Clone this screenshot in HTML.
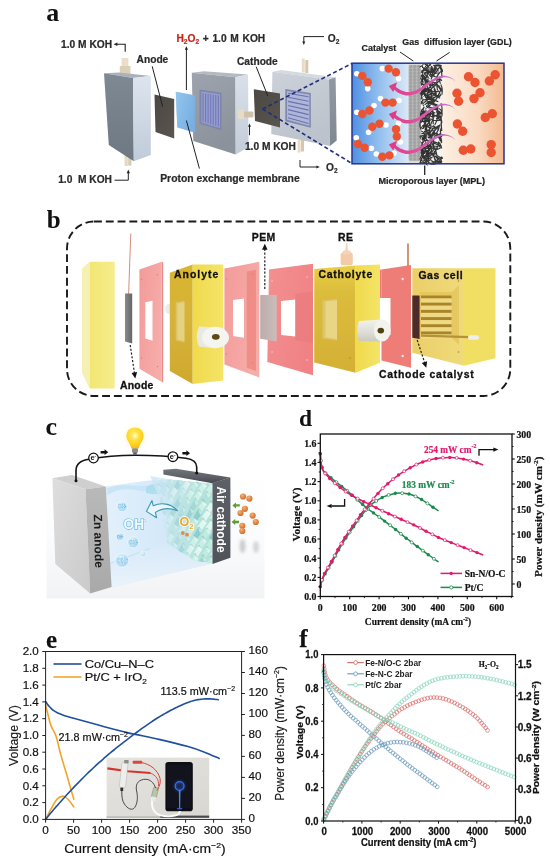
<!DOCTYPE html>
<html lang="en"><head><meta charset="utf-8"><title>Figure</title>
<style>html,body{margin:0;padding:0;background:#fff}svg{display:block}#pa text{stroke:#2a2a2a;stroke-width:.22px}#pa tspan[fill]{stroke:#c8251a}#pb text{stroke:#111;stroke-width:.3px}#pf text{stroke:#111;stroke-width:.25px}#pe text{stroke:#111;stroke-width:.18px}</style></head>
<body><svg width="550" height="863" viewBox="0 0 550 863">
<defs>
<linearGradient id="gLdark" x1="0" y1="0" x2="0" y2="1"><stop offset="0" stop-color="#7f8994"/><stop offset="1" stop-color="#6e7883"/></linearGradient>
<linearGradient id="gLlight" x1="0" y1="0" x2="0" y2="1"><stop offset="0" stop-color="#dde4ee"/><stop offset="1" stop-color="#c0cbd9"/></linearGradient>
<linearGradient id="gAnode" x1="0" y1="0" x2="1" y2="1"><stop offset="0" stop-color="#4b4743"/><stop offset="1" stop-color="#5a554e"/></linearGradient>
<linearGradient id="gMem" x1="0" y1="0" x2="1" y2="0.6"><stop offset="0" stop-color="#93c6ee"/><stop offset="1" stop-color="#78afe2"/></linearGradient>
<linearGradient id="gMidF" x1="0" y1="0" x2="0.3" y2="1"><stop offset="0" stop-color="#9ea4ad"/><stop offset="1" stop-color="#8b929c"/></linearGradient>
<linearGradient id="gMidR" x1="0" y1="0" x2="0" y2="1"><stop offset="0" stop-color="#d9e0e9"/><stop offset="1" stop-color="#c3ccd8"/></linearGradient>
<linearGradient id="gRF" x1="0" y1="0" x2="0.4" y2="1"><stop offset="0" stop-color="#cdd2d9"/><stop offset="1" stop-color="#bcc3cc"/></linearGradient>
<linearGradient id="gRR" x1="0" y1="0" x2="0" y2="1"><stop offset="0" stop-color="#9299a3"/><stop offset="1" stop-color="#7f8792"/></linearGradient>
<linearGradient id="gInL" x1="0" y1="0" x2="1" y2="0"><stop offset="0" stop-color="#4f90e2"/><stop offset="0.45" stop-color="#8fbdee"/><stop offset="1" stop-color="#dbe9f6"/></linearGradient>
<linearGradient id="gInR" x1="0" y1="0" x2="1" y2="0"><stop offset="0" stop-color="#fdf0e4"/><stop offset="0.6" stop-color="#f9d9c0"/><stop offset="1" stop-color="#f4b98f"/></linearGradient>
<linearGradient id="gPink" gradientUnits="userSpaceOnUse" x1="392" y1="0" x2="461" y2="0"><stop offset="0" stop-color="#e63884"/><stop offset="0.4" stop-color="#dc55a2"/><stop offset="0.75" stop-color="#c46cc6"/><stop offset="1" stop-color="#d9b0e0"/></linearGradient>

<linearGradient id="gYend" x1="0" y1="0" x2="1" y2="0"><stop offset="0" stop-color="#f2e772"/><stop offset="1" stop-color="#f5ec8c"/></linearGradient>
<linearGradient id="gStrip" x1="0" y1="0" x2="1" y2="0"><stop offset="0" stop-color="#8a8a8a"/><stop offset="1" stop-color="#666"/></linearGradient>
<linearGradient id="gPinkG" x1="0" y1="0" x2="1" y2="0.5"><stop offset="0" stop-color="#f39a9a"/><stop offset="1" stop-color="#f6aca8"/></linearGradient>
<linearGradient id="gPinkG2" x1="0" y1="0" x2="1" y2="0.5"><stop offset="0" stop-color="#f39090"/><stop offset="1" stop-color="#f08286"/></linearGradient>
<linearGradient id="gGold" x1="0" y1="0" x2="0" y2="1"><stop offset="0" stop-color="#d9b52f"/><stop offset="0.5" stop-color="#d6b23a"/><stop offset="1" stop-color="#cfa92c"/></linearGradient>
<linearGradient id="gGold2" x1="0" y1="0" x2="0" y2="1"><stop offset="0" stop-color="#e9cf45"/><stop offset="0.25" stop-color="#dcbc3c"/><stop offset="1" stop-color="#d4b035"/></linearGradient>
<linearGradient id="gYfront" x1="0" y1="0" x2="1" y2="0"><stop offset="0" stop-color="#f0da4c"/><stop offset="1" stop-color="#f4e468"/></linearGradient>
<linearGradient id="gPEM" x1="0" y1="0" x2="1" y2="0"><stop offset="0" stop-color="#bcadab"/><stop offset="1" stop-color="#cbbdba"/></linearGradient>
<linearGradient id="gTube" x1="0" y1="0" x2="0" y2="1"><stop offset="0" stop-color="#f2f2ee"/><stop offset="0.6" stop-color="#dddcd6"/><stop offset="1" stop-color="#c9c8c0"/></linearGradient>
<linearGradient id="gGasF" x1="0" y1="0" x2="1" y2="0"><stop offset="0" stop-color="#ebcf68"/><stop offset="1" stop-color="#f0da7a"/></linearGradient>

<linearGradient id="gMeshFade" x1="0" y1="0" x2="1" y2="0"><stop offset="0" stop-color="#cfe6f6" stop-opacity="0.75"/><stop offset="0.55" stop-color="#cbe6f2" stop-opacity="0.4"/><stop offset="0.8" stop-color="#cdeee8" stop-opacity="0"/></linearGradient>
<radialGradient id="gBulbHi"><stop offset="0" stop-color="#fffef0" stop-opacity="0.95"/><stop offset="1" stop-color="#fff6a0" stop-opacity="0"/></radialGradient>
<linearGradient id="gAirT" x1="0" y1="0" x2="0" y2="1"><stop offset="0" stop-color="#72767c"/><stop offset="0.55" stop-color="#5e6268"/><stop offset="1" stop-color="#45494f"/></linearGradient>
<filter id="fBlur" x="-1" y="-1" width="3" height="3"><feGaussianBlur stdDeviation="1.6"/></filter>
<linearGradient id="gCbg" x1="0" y1="0" x2="0" y2="1"><stop offset="0" stop-color="#ffffff"/><stop offset="0.5" stop-color="#fbfcfd"/><stop offset="1" stop-color="#f1f3f5"/></linearGradient>
<linearGradient id="gWater" x1="0" y1="0" x2="1" y2="1"><stop offset="0" stop-color="#d6e9f9"/><stop offset="1" stop-color="#dcecfa"/></linearGradient>
<linearGradient id="gWaterBack" x1="0" y1="0" x2="1" y2="0"><stop offset="0" stop-color="#e2f0fb"/><stop offset="1" stop-color="#d3e8f9"/></linearGradient>
<linearGradient id="gFloor" x1="0" y1="0" x2="0" y2="1"><stop offset="0" stop-color="#d3e7f8"/><stop offset="1" stop-color="#e9f3fb"/></linearGradient>
<linearGradient id="gZnL" x1="0" y1="0" x2="1" y2="1"><stop offset="0" stop-color="#dedede"/><stop offset="1" stop-color="#cacaca"/></linearGradient>
<linearGradient id="gZnF" x1="0" y1="0" x2="0" y2="1"><stop offset="0" stop-color="#b9b9b9"/><stop offset="1" stop-color="#a9a9a9"/></linearGradient>
<linearGradient id="gAirF" x1="0" y1="0" x2="0" y2="1"><stop offset="0" stop-color="#5d6167"/><stop offset="1" stop-color="#50545a"/></linearGradient>
<radialGradient id="gGlow"><stop offset="0" stop-color="#fff3a0" stop-opacity="0.9"/><stop offset="0.6" stop-color="#fff6c0" stop-opacity="0.45"/><stop offset="1" stop-color="#ffffff" stop-opacity="0"/></radialGradient>
<radialGradient id="gBulb" cx="0.45" cy="0.35" r="0.7"><stop offset="0" stop-color="#fff27a"/><stop offset="0.6" stop-color="#ffd522"/><stop offset="1" stop-color="#f2b40e"/></radialGradient>
<radialGradient id="gBub" cx="0.4" cy="0.35" r="0.7"><stop offset="0" stop-color="#e9f6fd"/><stop offset="1" stop-color="#9fd3f0"/></radialGradient>
<radialGradient id="gBall" cx="0.38" cy="0.32" r="0.75"><stop offset="0" stop-color="#f5b27a"/><stop offset="0.55" stop-color="#e28542"/><stop offset="1" stop-color="#c96a28"/></radialGradient>

<linearGradient id="gPhoto" x1="0" y1="0" x2="1" y2="1"><stop offset="0" stop-color="#e6e4e0"/><stop offset="1" stop-color="#d9d7d2"/></linearGradient>
<radialGradient id="gPhGlow"><stop offset="0" stop-color="#3b6fe8" stop-opacity="0.9"/><stop offset="1" stop-color="#1b2f80" stop-opacity="0"/></radialGradient>
</defs>
<rect width="550" height="863" fill="#ffffff"/>
<g id="pa">
<text x="46.2" y="20.6" font-family="'Liberation Serif','Times New Roman',serif" font-size="26" font-weight="bold" fill="#111" text-anchor="start" style="stroke:none">a</text>
<rect x="121.6" y="58" width="6.8" height="9" fill="#ebdfca"/><rect x="119.8" y="66" width="10.6" height="9" fill="#dccfb8"/>
<rect x="124.6" y="153" width="3.2" height="13" fill="#e6d9c2"/><rect x="128.2" y="155" width="3.2" height="10.6" fill="#d8cab0"/>
<polygon points="104,73.2 119,72.6 150.8,76.1 133,77.9" fill="#aab1bb" />
<polygon points="104,73.2 133,77.9 133.8,161.3 108.8,145" fill="url(#gLdark)" />
<polygon points="133,77.9 150.8,76.1 150.8,155 133.8,161.3" fill="url(#gLlight)" />
<polygon points="154.5,94.5 174.2,99 174.2,138.5 155.5,132" fill="url(#gAnode)" />
<polygon points="175.8,91.8 195.1,95.5 195.1,132.7 177.3,127.3" fill="url(#gMem)" />
<polygon points="191.8,72.7 204,71.3 248,74.5 235.5,77.3" fill="#b4bac3" />
<polygon points="191.8,72.7 235.5,77.3 235.7,154.4 193.3,141" fill="url(#gMidF)" />
<polygon points="235.5,77.3 248,74.5 248.6,147 235.7,154.4" fill="url(#gMidR)" />
<polygon points="175.8,91.8 195.1,95.5 195.1,132.7 177.3,127.3" fill="url(#gMem)" opacity="0.92"/>
<polygon points="199.5,89.6 221.5,92.7 221.5,130.3 199.5,123.8" fill="#7d86a8" />
<polygon points="201.3,91.6 220,94.2 220,128 201.3,122.4" fill="#969ecf" />
<line x1="203" y1="93.1" x2="203" y2="121.9" stroke="#6972b2" stroke-width="0.9" />
<line x1="205.6" y1="93.5" x2="205.6" y2="122.7" stroke="#6972b2" stroke-width="0.9" />
<line x1="208.1" y1="93.8" x2="208.1" y2="123.4" stroke="#6972b2" stroke-width="0.9" />
<line x1="210.7" y1="94.2" x2="210.7" y2="124.2" stroke="#6972b2" stroke-width="0.9" />
<line x1="213.2" y1="94.6" x2="213.2" y2="125" stroke="#6972b2" stroke-width="0.9" />
<line x1="215.8" y1="94.9" x2="215.8" y2="125.7" stroke="#6972b2" stroke-width="0.9" />
<line x1="218.3" y1="95.3" x2="218.3" y2="126.5" stroke="#6972b2" stroke-width="0.9" />
<rect x="237.6" y="109.6" width="7" height="9.6" rx="1.8" fill="#e6dbc7"/><rect x="244" y="111.6" width="9.4" height="5.8" rx="1.2" fill="#cfc2aa"/>
<rect x="301.8" y="58.5" width="3" height="14" fill="#e9dcc6"/><rect x="305.3" y="60" width="3" height="13" fill="#d6c8ae"/>
<rect x="297.6" y="140" width="3" height="12.5" fill="#e9dcc6"/><rect x="301" y="140" width="3" height="11.5" fill="#d6c8ae"/>
<polygon points="272.4,71.8 281,70 335.6,77.3 329,79.6" fill="#d5dae1" />
<polygon points="272.4,71.8 329,79.6 330,146 271.3,134" fill="url(#gRF)" />
<polygon points="329,79.6 335.6,77.3 336.7,140.5 330,146" fill="url(#gRR)" />
<polygon points="253.8,89.3 280,93.6 280,127.5 255,121" fill="url(#gAnode)" />
<polygon points="285.3,89 310.8,93 310.8,127.8 285.3,121.2" fill="#7f88ad" />
<polygon points="287,91 309.3,94.5 309.3,125.7 287,119.8" fill="#b0b6d8" />
<line x1="288" y1="93.2" x2="308.5" y2="96.7" stroke="#6a73b0" stroke-width="1.1" />
<line x1="288" y1="97.3" x2="308.5" y2="101.2" stroke="#6a73b0" stroke-width="1.1" />
<line x1="288" y1="101.4" x2="308.5" y2="105.6" stroke="#6a73b0" stroke-width="1.1" />
<line x1="288" y1="105.5" x2="308.5" y2="110.1" stroke="#6a73b0" stroke-width="1.1" />
<line x1="288" y1="109.6" x2="308.5" y2="114.6" stroke="#6a73b0" stroke-width="1.1" />
<line x1="288" y1="113.7" x2="308.5" y2="119" stroke="#6a73b0" stroke-width="1.1" />
<line x1="288" y1="117.8" x2="308.5" y2="123.5" stroke="#6a73b0" stroke-width="1.1" />
<path d="M262.5,109 L352,63.5 M262.5,109 L352,163.5" fill="none" stroke="#1f2f7c" stroke-width="1.6" stroke-dasharray="4 2.6"/>
<text x="61.1" y="48.4" font-family="'Liberation Sans',Arial,sans-serif" font-size="10.2" font-weight="bold" fill="#2a2a2a" text-anchor="start" >1.0 M KOH</text>
<path d="M116,44.2 H125.2 V51.8" fill="none" stroke="#222" stroke-width="1.1"/><polygon points="113.6,44.2 117.4,42.5 117.4,45.9" fill="#222" />
<text x="58.2" y="183" font-family="'Liberation Sans',Arial,sans-serif" font-size="10.2" font-weight="bold" fill="#2a2a2a" text-anchor="start" >1.0&#160; M KOH</text>
<path d="M114.5,180.2 H128.3 V172.5" fill="none" stroke="#222" stroke-width="1"/><polygon points="128.3,169.6 129.9,173.2 126.7,173.2" fill="#222" />
<text x="136.6" y="63.4" font-family="'Liberation Sans',Arial,sans-serif" font-size="10.2" font-weight="bold" fill="#2a2a2a" text-anchor="start" >Anode</text>
<line x1="152.2" y1="66.3" x2="162.6" y2="106.5" stroke="#222" stroke-width="1" />
<text x="176.5" y="42.2" word-spacing="0.9" font-family="'Liberation Sans',Arial,sans-serif" font-size="10.2" font-weight="bold" fill="#2a2a2a"><tspan fill="#c8251a">H<tspan font-size="6.5" dy="2.2">2</tspan><tspan dy="-2.2">O</tspan><tspan font-size="6.5" dy="2.2">2</tspan></tspan><tspan dy="-2.2"> + 1.0 M KOH</tspan></text>
<line x1="186.4" y1="90" x2="186.4" y2="49" stroke="#222" stroke-width="1" /><polygon points="186.4,46.2 188,49.8 184.8,49.8" fill="#222" />
<text x="237" y="65" font-family="'Liberation Sans',Arial,sans-serif" font-size="10.2" font-weight="bold" fill="#2a2a2a" text-anchor="start" >Cathode</text>
<line x1="256.2" y1="66.8" x2="267.8" y2="96" stroke="#222" stroke-width="1" />
<line x1="186.4" y1="120.5" x2="199.4" y2="168.5" stroke="#222" stroke-width="1" />
<text x="160.2" y="182.4" font-family="'Liberation Sans',Arial,sans-serif" font-size="10.38" font-weight="bold" fill="#2a2a2a" text-anchor="start" >Proton exchange membrane</text>
<text transform="translate(244.9,150.2) scale(1,1)" font-family="'Liberation Sans',Arial,sans-serif" font-size="10.2" font-weight="bold" fill="#2a2a2a">1.0 M KOH</text>
<line x1="249.5" y1="135.2" x2="249.5" y2="126.2" stroke="#222" stroke-width="1" /><polygon points="249.5,123.4 251,126.8 248,126.8" fill="#222" />
<text x="327.8" y="41.6" font-family="'Liberation Sans',Arial,sans-serif" font-size="10.2" font-weight="bold" fill="#2a2a2a">O<tspan font-size="6.5" dy="2.2">2</tspan></text>
<path d="M324,36.6 H303.8 V42.2" fill="none" stroke="#222" stroke-width="1"/><polygon points="303.8,45 302.3,41.6 305.3,41.6" fill="#222" />
<text x="326" y="171" font-family="'Liberation Sans',Arial,sans-serif" font-size="10.2" font-weight="bold" fill="#2a2a2a">O<tspan font-size="6.5" dy="2.2">2</tspan></text>
<path d="M300,160 V167 H316.8" fill="none" stroke="#222" stroke-width="1"/><polygon points="319.8,167 316.4,168.5 316.4,165.5" fill="#222" />
<rect x="352" y="63.2" width="57" height="100.6" fill="url(#gInL)"/>
<rect x="442" y="63.2" width="62" height="100.6" fill="url(#gInR)"/>
<rect x="420.5" y="63.2" width="21.8" height="100.6" fill="#f3f3f1"/><rect x="408.6" y="63.2" width="12.4" height="100.6" fill="#d9dadb"/>
<rect x="408.6" y="63.2" width="12" height="100.6" fill="#d9dadb"/>
<rect x="408.6" y="65" width="12.2" height="96" rx="3" fill="#b9b9b9"/>
<line x1="410.7" y1="66.5" x2="410.7" y2="160" stroke="#a2a2a2" stroke-width="3.3" stroke-linecap="round" stroke-dasharray="0.1 3.2"/>
<line x1="414.7" y1="66.5" x2="414.7" y2="160" stroke="#a2a2a2" stroke-width="3.3" stroke-linecap="round" stroke-dasharray="0.1 3.2"/>
<line x1="418.7" y1="66.5" x2="418.7" y2="160" stroke="#a2a2a2" stroke-width="3.3" stroke-linecap="round" stroke-dasharray="0.1 3.2"/>
<path d="M427.6,78.9Q426.8,80.2 425.5,83.1M422.2,114.2Q423.5,112.2 430,115.2M429.7,145.9Q433.2,149.7 435.3,148.1M432.8,103.3Q432.8,102.2 428.4,103.6M424,75.7Q425.3,80.8 430.4,85M434.1,100.9Q431.1,101.4 433.4,105.4M434.9,106.3Q437.2,109 440.1,114.1M437.3,133.2Q439.7,138.6 441.8,139.6M436,92.5Q432.9,94.2 430.9,92.8M424.1,112.4Q430.7,113.5 434.1,113.6M438.9,95.1Q436.7,98.6 433.6,102.7M438.2,157.5Q436,161.5 439,163M434.3,162.3Q430.8,163.7 428.7,163M421.5,109.7Q421,112.6 425.8,112.3M423.7,88.5Q423.1,93.8 427.6,99.7M432.3,151.5Q426,154.1 422.3,157.8M428.4,151.5Q423.8,150.3 423,152.2M425.8,112Q421.9,114.6 424,118.1M428.6,120.1Q424.9,121.5 421,121.6M434.9,69.3Q431.9,72.8 424.4,72.8M429,103.5Q431,102.5 438.2,106.6M425.3,80.1Q423.4,79.9 427.4,84M423.1,100Q429.7,98.4 434.9,100.9M426.2,98.4Q429.3,103.7 428.3,103M430.6,111.9Q432,111.1 435.3,113.2M438,80Q440.1,78.3 441.8,80.9M432.1,66.7Q433.8,74.2 431,79.4M426.4,100.3Q431.3,104.7 435.8,105.8M427.8,86.1Q426.5,91.5 421,93.3M437.8,137.2Q438.9,137.3 441.8,142.9M421.6,91.7Q427.8,95.1 428.6,99.1M440.2,161.8Q434.9,160.7 433,162.8M425,84.2Q425.1,89.7 421,95.4M434.4,143.2Q440.6,146.2 441.8,145.8M436.4,111.3Q438.1,116.1 441.8,117.2M440.9,103.2Q442.7,107.2 441.8,115.1M423.6,79Q420.2,82.6 421,82.3M441.1,129.1Q439.2,130.1 441.8,137M440.9,128.3Q440,136.7 439.9,140.7M437.9,84.9Q438.3,87.8 441.8,89.6M426.3,105.5Q431,107.7 437.5,110.4M433,153.5Q434.5,158.5 436,163M431.7,65.9Q429.3,70.4 432.8,71.4M424.5,110.9Q421.7,114.4 421,117.7M432.4,141.6Q435.1,141.8 440.9,144.6M436.8,114.3Q438.3,119.2 434.7,124.9M433.6,114Q433.1,119.4 433.2,124.3M430.8,157.2Q430,158.7 423.8,163M432.5,157.4Q427.9,158.3 427.9,159.9M422.5,87.8Q429.1,91.3 432.2,90.1M424.2,134.9Q425.2,140 421.6,139.5M425.5,158.3Q429.8,162.6 428.1,163M424.3,106.7Q422.3,109.2 424,113.8M435.8,65.9Q432.2,68.8 434.5,73.8M433.8,114.7Q439.5,118.8 441.8,117.3M423.1,90.3Q427.2,88.8 434.1,91.7M429.7,154.2Q424.9,158.4 424.3,157.6M432.7,133.3Q436,133.5 437,134.6M422.5,156.9Q419.2,162.1 421,163M422.4,149.4Q423.2,155.5 423.4,156.4M426.5,76.8Q423.9,77.8 426,82.9M422,84Q425.5,85.5 425.8,89.6M431.3,81.6Q430.7,80.6 433.2,85.3M436,118.6Q441.5,118.5 441.8,123.2M437.8,106.8Q437.2,112.6 438,118.3M435.1,161.3Q439.1,162.9 440.5,163M429.3,98.4Q429.3,100.3 434.4,99.3M426.2,80.2Q434,82.7 437.4,83.2M426.8,88Q427.2,90.9 431.7,94.5M426.4,159.2Q422.2,162.4 421,160M427.3,99.3Q430.9,99.3 434.8,99.3M425.1,114Q425.8,113.4 431.5,114.1M421.9,66.2Q424.1,68.9 425.4,71.2M436.4,129.1Q432,132.7 428.9,138.4M441.2,78.8Q435.3,84.5 434.8,86.3M439.3,126.1Q433.3,130.4 431.7,134.5M431.3,146.7Q427.2,152.3 422,153.2M435,132.6Q434.4,133.2 438.2,135.5M423.2,146.7Q423,152.6 421.4,156.2M431,64.3Q426.7,67.7 422.4,70.7M434.5,70.5Q429.8,71.4 430.3,75.2M436,84.3Q431.5,88.3 427.2,93.6M430.8,131.7Q428.1,132.3 423.7,138.1M424,89.1Q422.9,88.6 421,94M422.2,90.6Q422.7,93.7 421,99.4M431.6,110Q434.2,110.7 432.1,115M441.1,156.7Q443.3,159.7 441.8,157.1M430.2,90.6Q433.4,94.9 440.1,98.3M423.9,115.9Q424.4,116.3 421,116.7M439.2,133.6Q440.4,134.8 441.8,141.7M421.1,112.7Q419.4,115.1 422.1,119.3M427.5,147.2Q434.9,144.9 438.2,147.2M440,134.6Q436.1,135 433.7,136.6M441.5,122.3Q440.3,123.2 441.8,129.4M423.1,146.6Q425.5,150.1 430.8,156.3M431.5,82.8Q436.2,90.5 436.4,94.4M433.9,154.4Q430.9,152.6 425.1,156.1M436,108.6Q431.2,109.4 429,115.5M440,76.6Q439.1,81.6 440.6,83.7M441,89.8Q439.8,92.1 437.9,95.7M424.4,80Q429.2,82 434.1,87.4M439.6,162.7Q438.1,160.4 440.4,163M428,73Q430.7,77.5 432.6,77.3M436.4,104.9Q436.8,108.1 438.7,113.3M422.3,91.5Q421.7,92.5 421,92M438.7,85.4Q439.6,87.4 441.8,90.1M440.6,148Q435.8,150.1 436.7,149.7M439.4,110.9Q438.2,115.3 438.3,114.7M437.9,148.7Q432.5,146.9 431.7,149.2M431.7,131.5Q427.4,134.1 421.4,133.4M430.4,118.6Q434.2,121.8 441.3,120M434.2,94.1Q437.9,96.5 440,96.5M423.3,71Q422.3,73.9 422.6,80.2M433.3,65Q438.5,69.2 438.1,71.6M439.1,111.1Q443.2,114.4 441.8,115.2M427.3,66.2Q426.8,69.7 427.4,76.2M434.7,155.6Q435.3,156.5 437.9,158.4M435,83.6Q430.7,85 426.4,90M440.9,94.9Q436.6,98.1 435.8,98.1M427,158.2Q425.4,160.1 427.1,163M434.6,157.9Q436.3,162.4 441.4,161.3M423.9,69.1Q430,72.1 431.3,70.5M436,162.8Q430.7,165.5 429.2,163M436.3,67.2Q433.7,69.4 432.6,73.6M424.5,64.3Q429.5,64.8 429,69.8M440.8,84.5Q443.2,89.3 441.8,94.8M422,110.9Q422.6,115.7 426.8,122.2M439.4,67Q442.2,69.7 441.8,77.9M421.7,70.2Q422.8,73.4 421,71.8M428,91Q423,92.9 421,92.2M427.5,91.3Q435.4,92.2 438.3,91.4M440.3,66.4Q443.8,71.9 441.8,71.9M428.9,88.9Q432.4,91.1 430.8,97.1M437.5,137.1Q433.4,139 428.2,142.9M427.6,99.8Q423.9,102.8 423.9,102.8M426.1,70.4Q429.5,73.8 435,71.4M439.1,161.8Q438,162.4 441.8,163M435.6,108.2Q439.1,111.9 441.3,113.5M436.3,147.9Q437.1,148.8 433.8,152.3M432.6,100.9Q429.1,101.5 428.7,105.2M424.1,151.5Q422.7,157.9 422.5,158.3M431.4,86.9Q430.3,87.3 423.3,92.5M430.7,145.1Q423.1,146.8 421,151M423.4,82.8Q424.8,82.4 421,83.6M438.8,108.5Q443,110.1 441.8,116.5M433.2,125.4Q433.9,125.9 438.9,130M426.2,123.3Q422,124.9 423.6,128.5M434.9,82.3Q438.3,85 438.1,87.2M422.3,74Q424.6,75.8 425.2,82.5M424.4,132.8Q424.1,138.7 426.2,139.1M427.4,120.1Q431.3,126.6 430.8,127.1M428.5,83.5Q423.6,88.1 424.6,87.9M429.7,145.2Q431.2,148.9 433.2,156.6M421.3,118.6Q418.7,124.8 421,129.6M428.6,113.9Q431.7,117.9 434.5,116.8M423.2,112.6Q420.3,114 421,119.9M440.3,160.6Q443,161.1 440.6,163M439.5,125.4Q438.9,125.2 434.9,128.3M429.3,147.8Q425.2,148.6 424.4,150.7M431.6,102Q435.8,105.5 437.4,104.3M421.8,119.7Q423.5,118.9 421,122.7M433.3,118.5Q431.5,122.1 430.7,124.7M429.7,129.2Q427.5,133.9 431,137.1M431,87.3Q426.7,89.1 422.9,94.7M430.7,74.6Q431.9,75.8 437.9,77.7M431.5,68Q431.9,71.9 429.5,72.3M431.5,69.4Q434.1,70.9 431.4,76.8M438.6,162.6Q433,165.7 431,163M431.1,158.7Q430.2,162 425.8,160.1M422.3,98.7Q424.1,99.3 421,102.5M437.7,78.2Q435.9,82.9 437.6,90.5M431.4,95.6Q432.1,98.5 437,96.2M434.9,152.6Q436.1,155.6 441.8,158.2M434,99.6Q430.4,103.7 425.8,103.1M423.1,162.3Q423.9,161.2 421,163M441.3,121.2Q441.2,124.1 441.8,131M436.2,68.8Q434.4,73.4 430.9,72.2M433,129.7Q431.3,129.3 435.2,133M433.6,106.8Q431.2,111.2 433.1,118.8M434.4,66.2Q435.6,65.4 441.6,66.3M425.6,121.8Q425.5,124.4 424,127.4M423.8,156.7Q423.3,159.4 427.6,160.4M438.9,141.4Q436.9,145.3 440.8,147.5M432.5,98.7Q433.4,103.7 429,105.9M426.1,153.4Q429.9,152.5 434.8,154.7M422.2,141.1Q429.3,139.1 431.1,141.5M425.1,124.2Q426.9,127.1 424.9,134M427.3,93.7Q435,95.9 439.2,95.5M421.1,147.6Q422.5,150.3 421,153.5M425.6,74.4Q426.3,77.4 428.9,77.3M435.2,147.7Q433.6,149.8 431.3,152.7M437.2,115.8Q442.3,117.7 441.8,123M439,65.5Q441.9,70.4 441.8,70M436.3,96.4Q431.5,100.1 429.8,98.9M433.9,132.6Q430.6,140.2 427.6,143.7M435.3,148.9Q436.8,152.9 437.4,159.2M425.3,125.6Q429.1,124.3 437.2,128.6M423.2,156Q421.6,155.5 425.7,160.6M435.2,126.8Q429.5,131.6 429,135.4M428.4,144.9Q422.1,150.4 421,151.4M439.7,157.5Q438.4,155.7 441.8,159.4M438.4,144.4Q436.8,148.3 433.7,154.8M423,73.7Q420.9,75.2 421,77.7M421.4,89.4Q423.9,92.4 428,97.5M440.8,113.9Q433.7,115.5 432.2,118.2M429.9,140.5Q432.6,143.4 434.7,149.7M438.7,73Q433.3,72.7 434,76M436.6,160.8Q439.2,162.6 441.8,160.9M424.8,113Q426,120.7 430.1,123.2M426.8,85.3Q422,89.5 421.8,92.1M422.7,142Q422.6,145.6 421,151M429.2,103.1Q429.3,101 424.7,104.7M425.2,90.1Q422.4,93.7 421,92.7M425.8,109.6Q426.8,115.9 424.7,120.4M428.1,96.3Q434.2,100.5 438.4,101.8M424.5,107.4Q420.5,110.2 421,113.5M439.1,87.6Q441.7,91.5 441.8,91.4M424.2,79.4Q426.8,79.8 429.1,84.3M427.7,82.7Q422,85.9 421,83.6M423.1,102Q423.4,101.9 421,102.6M425,127.2Q427.1,125.3 430.6,129.1M429.2,142.3Q427.5,145.6 424.3,149.3M423.9,123.8Q427.9,128.4 427.1,134M432.8,138.2Q434.8,143.4 434.3,144M436.9,133.3Q433.2,135.3 427.8,137.8M427.4,126.2Q432.8,128.7 434.8,128.6M433.9,88.8Q435.6,92.1 435.8,96.6M434.8,156.1Q440,158.1 441.8,161.5M431,160.5Q433.4,162.7 439.9,161.6M440.3,115.4Q441.3,118.1 441.8,118.3M431.5,127.3Q427.2,132.2 424,131.7M425.3,131.8Q424.8,139.8 428.9,142M428.3,69.6Q427.8,72 433.2,75.4M429.6,133.1Q429.4,137.4 432.5,138.8M440.3,116.2Q440.4,118 441.8,123.3M423.7,140.9Q422.1,144 421,146.4M425.6,159.4Q429.7,163.1 430,163M430.6,93.1Q432.2,94.8 429.8,98.2M438.4,90.5Q439.2,91.5 440.8,96.3M421.1,135.5Q421.8,137.7 425,140.3M429.8,127.1Q430.6,132.4 426.3,133.5M422.2,146Q419.4,149.6 421,149.2M434,65.5Q438.8,64.2 441.8,65.9M423.1,78.1Q426.2,79.7 431.2,85.5M439.5,142.4Q441.3,147.1 441.8,148.4M434.7,152.5Q428.3,157.2 425.6,159.6M431.9,137.4Q433.4,141.9 434.2,149.2M425.8,77.8Q425.7,77.9 425.9,82.3M431.1,113.3Q427.4,121.2 429.6,125M430.6,119.7Q427,124.2 424.9,129.7M440.7,71.5Q435.8,76.5 436.6,80.3M435,156.2Q438.3,159.5 441.5,163M439.4,67.4Q435.4,73.3 433.3,74.8M428.5,111Q426.3,116 427.6,121.9M429.7,118.8Q428.8,120 424,122.3M431.3,90.9Q432.1,99 431.1,103.7M427.8,95.4Q431.3,100.8 433.3,102.9M421.8,135.5Q418.7,135.9 421,138.7M421.1,82.8Q422,85.7 421,85.1M439.7,124.6Q439.1,129.6 436.2,133.6" fill="none" stroke="#262626" stroke-width="1.15" opacity="0.92"/>
<path d="M427.5,85L428.5,84.7M428.2,74L426.3,70.3M428.4,154.5L429.3,153.4M428.8,141.9L429.2,139.9M423.9,105.8L422.8,105.2M427.1,156.5L424.4,157M421.4,75.8L423.2,76.4M429.7,108.2L426.8,107.3M426.6,156.8L429.5,156.6M424.9,74.1L425.8,71.8M422.4,65.5L419.5,67M422.2,159.7L419.7,162.6M422.2,65.8L423.5,63.7M428,82.6L425.3,84.7M427.8,148.7L429.2,145.4M427,134.2L426.7,137.7M423.4,159.5L424.7,155.6M421.1,128.4L423,125.1M424,136.2L422,139.1M425.6,69.9L424.8,70.5M425.2,131L423,133.4M424.5,127.8L425.2,127.2M424.7,141.8L427.3,144.1M426.4,92.9L423.7,96.7M427.7,145.9L426.7,146.8M430.3,146.3L430.9,144.8M425.1,151.9L424.3,153.4M426.7,152.7L428.6,151M421,90L420.6,90.7M428.8,151.9L426,154.5M428.7,149.9L429.1,148M429.1,143.9L430.2,147.2M424.3,72.4L424.6,74.8M422.9,138.3L425.5,136.1M426.8,131.1L426.6,128.7M423.4,138.4L425.2,138M421.8,143.9L423.5,141.7M426.5,152.8L428.8,153M425.5,122.3L423.7,119.9M422.7,133.4L421.9,133.9M424.8,115.2L422.7,111.6M430.5,101L428.1,102.1M428.5,79.5L429.1,78.2M425.9,66L423.1,70M429.2,112.1L429.6,110.2M428.4,106.2L431.1,108.3M428.8,159.4L427.3,155.7M422.9,81.9L420.4,78.3M426.3,150.2L426,153.8M429.6,70.4L430.2,69.5M422.1,159L420.7,159.5M427.1,158.7L428.1,157.8M425.3,79.8L428.1,83.7M423.1,67.8L421.6,66.6M429.6,153.6L431.6,149.9M428.5,134.3L429.4,138.1M421.5,78.3L423.1,81.9M427.4,93.6L428,95.6M422,96.1L420.5,93.1M425.6,80.7L424,77.8M427.4,65.2L428.7,62.8M421.3,155.8L419.7,159.3M429.2,152L427.1,151.6M421.9,155.9L424,157M425.3,97.6L427.2,97.5M427,78.1L425.3,74.6M427.8,118.8L425.6,121.7M423.5,104.8L421.5,102.9M429,97.1L427,97M424,153.4L421.7,157.2M421.5,152.6L422.5,150.3M425.5,92.3L424.1,90M424.5,162.1L427.4,165.5M421.9,92.7L424.3,89.1M427.9,93.1L430.8,89.2M428.7,97.7L426.5,93.8M428.9,116.1L427,115.6M429.7,85.6L430.1,82.7M422.7,140.3L424,137.8M421.8,72.7L422.4,72.6M423.6,84.4L424.3,86.1M428.7,121.7L426.9,118.2M428,104.4L429.3,100.8M428.7,97.2L430.8,100.1M425.7,65.5L428.1,65.3M429.3,90.4L427.4,93M424.5,80.2L423.7,80.9M421,115.5L420.7,115.6M422.1,134.7L424,137.7M424,134.4L423.3,136.4M421.6,150.4L424.3,150.4M425.9,116.5L426.1,112.7M430.2,86.1L428.3,83M423.4,144.9L420.6,141.7M427.6,83.3L424.7,84.1M426.5,115.8L427.7,112.6M429.3,135L426.5,132M425.7,113.6L424.4,110.6M424.9,77.6L425.4,80.4M422.4,120.7L423.9,118M428.8,156.8L428.2,156.2M429,116L428.4,119.6M428.4,97.5L426.8,96.2M425.1,161.1L427,164.4M428.7,147.9L426.1,148.1M430.1,156.5L428.6,155.9M427,100.1L427.2,96.6M425.1,114L422.2,111.1M430.2,140.9L432.8,141.9M428.7,151.6L431,147.8M427.1,90.3L428.2,88.5M426.2,155.5L426.9,153.5M425.9,106.9L428.6,105.2M423.9,128.1L421.6,128.9M430.1,114.9L428.7,114.6M426.1,78.7L423.8,75.7M423.8,104.2L422.5,102.2M421.8,118.1L423.9,119M426.4,128.4L424.6,130.1M425.4,118.3L426.1,118M423.9,88L422.3,88.1M424.6,122L421.7,120.8M429.2,87.6L429.5,87.5M423.7,161.8L422.5,163.9M422.5,70.6L424.7,70.1M421.6,102.4L421.2,104.3M422,86.3L424.8,88.2M422.5,97.4L421.6,98.8M426.9,148.1L428.8,148.3M428,137.6L429.6,137.4M428.5,134.1L430.9,131.2M429.3,64.4L430.9,65.1M425.7,159.3L426.2,158.7M428.4,150.4L429.1,149.4M425.3,109.3L426.6,107.7M424.7,119L424,117.6M428.5,148.1L428.5,147.7M422.8,94.1L420.6,94.7M426.5,72.7L429,71.3M429,147L431.8,144.6M425.1,154.1L422.1,150.5M426.4,113.2L428.9,115.4M426.1,162.8L426.2,163M427.5,102.6L426.7,103.3M424.3,157.8L425.4,158M421.9,101.1L421.3,101.6M426.5,151.1L429.2,151M425.2,125.8L428.2,124.6M426,144.8L424.1,143.3M430.3,145.8L430.4,142.7M429.5,132.3L431.4,136.2M429.4,105.7L427.4,104M425.9,114L424,111.4M427,123.7L426.1,127.7M427,68.2L426.5,70.5M423.9,132.4L420.9,130.8M429,122L430,119.6M425.7,118.8L424.3,119.9M426,162.7L426.5,162M422.2,79.5L423.7,76.4M422,80.9L422.1,83.5M426.8,143.9L424.2,140M428.3,96L429.6,94.8M422.6,90.4L420.2,93.6M426.5,98.5L426.2,97.6M421.5,152.2L422,155.8M425.2,125.4L423.7,121.7M429.8,148.6L428.7,151.8M428.8,94.1L429.4,97.7M425.7,158L424.2,157.1" fill="none" stroke="#2e2e2e" stroke-width="1"/>
<polygon points="392.7,88.3 393.6,89 394.5,89.8 395.4,90.6 396.4,91.4 397.4,92.2 398.6,92.9 399.7,93.5 400.9,94 402.1,94.5 403.4,94.8 404.7,95.2 406,95.4 407.3,95.5 408.7,95.4 410,95.3 411.2,95.1 412.5,94.8 413.7,94.5 414.9,94.1 416.1,93.7 417.3,93.2 418.5,92.6 419.6,92 420.7,91.3 421.7,90.6 422.7,89.8 423.7,89.1 424.6,88.3 425.6,87.5 426.5,86.8 427.4,86 428.3,85.3 429.2,84.6 430.2,83.9 431.2,83.2 432.1,82.6 433.1,81.9 434.1,81.3 435.1,80.7 436.2,80.1 437.2,79.5 438.2,79 439.3,78.5 440.3,78 441.4,77.7 442.4,77.4 443.5,77.3 444.7,77.2 445.8,77.3 446.9,77.4 448.1,77.6 449.2,77.9 450.3,78.2 451.4,78.7 452.5,79.2 453.4,79.9 454.3,80.7 455.2,81.5 455.3,81.4 454.5,80.5 453.7,79.6 452.8,78.7 451.8,78 450.7,77.4 449.6,76.9 448.4,76.5 447.2,76.2 446,75.9 444.8,75.7 443.5,75.6 442.2,75.6 440.9,75.8 439.7,76.2 438.5,76.6 437.3,77.1 436.2,77.6 435.1,78.1 434,78.6 432.9,79.2 431.9,79.8 430.8,80.4 429.8,81 428.7,81.7 427.7,82.4 426.7,83.1 425.7,83.8 424.7,84.6 423.8,85.3 422.8,86 421.9,86.7 420.9,87.4 420,88.1 419,88.7 418.1,89.3 417.1,89.8 416.1,90.3 415,90.7 414,91 412.9,91.3 411.8,91.6 410.7,91.7 409.6,91.9 408.5,91.9 407.4,92 406.4,91.9 405.3,91.7 404.3,91.5 403.3,91.1 402.2,90.8 401.2,90.3 400.2,89.9 399.3,89.3 398.3,88.7 397.4,88.1 396.5,87.4 395.5,86.6 394.5,85.9" fill="url(#gPink)" />
<polygon points="388.8,85.9 397,82.3 395.6,87.1 393.2,91.9" fill="#e33a86" />
<polygon points="392.7,116.4 393.6,117.1 394.5,117.9 395.4,118.7 396.4,119.5 397.4,120.3 398.6,121 399.7,121.6 400.9,122.1 402.1,122.6 403.4,122.9 404.7,123.3 406,123.5 407.3,123.6 408.7,123.5 410,123.4 411.2,123.2 412.5,122.9 413.7,122.6 414.9,122.2 416.1,121.8 417.3,121.3 418.5,120.7 419.6,120.1 420.7,119.4 421.7,118.7 422.7,117.9 423.7,117.2 424.6,116.4 425.6,115.6 426.5,114.9 427.4,114.1 428.3,113.4 429.2,112.7 430.2,112 431.2,111.3 432.1,110.7 433.1,110 434.1,109.4 435.1,108.8 436.2,108.2 437.2,107.6 438.2,107.1 439.3,106.6 440.3,106.1 441.4,105.8 442.4,105.5 443.5,105.4 444.7,105.3 445.8,105.4 446.9,105.5 448.1,105.7 449.2,106 450.3,106.3 451.4,106.8 452.5,107.3 453.4,108 454.3,108.8 455.2,109.6 455.3,109.5 454.5,108.6 453.7,107.7 452.8,106.8 451.8,106.1 450.7,105.5 449.6,105 448.4,104.6 447.2,104.3 446,104 444.8,103.8 443.5,103.7 442.2,103.7 440.9,103.9 439.7,104.3 438.5,104.7 437.3,105.2 436.2,105.7 435.1,106.2 434,106.7 432.9,107.3 431.9,107.9 430.8,108.5 429.8,109.1 428.7,109.8 427.7,110.5 426.7,111.2 425.7,111.9 424.7,112.7 423.8,113.4 422.8,114.1 421.9,114.8 420.9,115.5 420,116.2 419,116.8 418.1,117.4 417.1,117.9 416.1,118.4 415,118.8 414,119.1 412.9,119.4 411.8,119.7 410.7,119.8 409.6,120 408.5,120 407.4,120.1 406.4,120 405.3,119.8 404.3,119.6 403.3,119.2 402.2,118.9 401.2,118.4 400.2,118 399.3,117.4 398.3,116.8 397.4,116.2 396.5,115.5 395.5,114.7 394.5,114" fill="url(#gPink)" />
<polygon points="388.8,114 397,110.4 395.6,115.2 393.2,120" fill="#e33a86" />
<polygon points="392.7,146.8 393.6,147.5 394.5,148.3 395.4,149.1 396.4,149.9 397.4,150.7 398.6,151.4 399.7,152 400.9,152.5 402.1,153 403.4,153.3 404.7,153.7 406,153.9 407.3,154 408.7,153.9 410,153.8 411.2,153.6 412.5,153.3 413.7,153 414.9,152.6 416.1,152.2 417.3,151.7 418.5,151.1 419.6,150.5 420.7,149.8 421.7,149.1 422.7,148.3 423.7,147.6 424.6,146.8 425.6,146 426.5,145.3 427.4,144.5 428.3,143.8 429.2,143.1 430.2,142.4 431.2,141.7 432.1,141.1 433.1,140.4 434.1,139.8 435.1,139.2 436.2,138.6 437.2,138 438.2,137.5 439.3,137 440.3,136.5 441.4,136.2 442.4,135.9 443.5,135.8 444.7,135.7 445.8,135.8 446.9,135.9 448.1,136.1 449.2,136.4 450.3,136.7 451.4,137.2 452.5,137.7 453.4,138.4 454.3,139.2 455.2,140 455.3,139.9 454.5,139 453.7,138.1 452.8,137.2 451.8,136.5 450.7,135.9 449.6,135.4 448.4,135 447.2,134.7 446,134.4 444.8,134.2 443.5,134.1 442.2,134.1 440.9,134.3 439.7,134.7 438.5,135.1 437.3,135.6 436.2,136.1 435.1,136.6 434,137.1 432.9,137.7 431.9,138.3 430.8,138.9 429.8,139.5 428.7,140.2 427.7,140.9 426.7,141.6 425.7,142.3 424.7,143.1 423.8,143.8 422.8,144.5 421.9,145.2 420.9,145.9 420,146.6 419,147.2 418.1,147.8 417.1,148.3 416.1,148.8 415,149.2 414,149.5 412.9,149.8 411.8,150.1 410.7,150.2 409.6,150.4 408.5,150.4 407.4,150.5 406.4,150.4 405.3,150.2 404.3,150 403.3,149.6 402.2,149.3 401.2,148.8 400.2,148.4 399.3,147.8 398.3,147.2 397.4,146.6 396.5,145.9 395.5,145.1 394.5,144.4" fill="url(#gPink)" />
<polygon points="388.8,144.4 397,140.8 395.6,145.6 393.2,150.4" fill="#e33a86" />
<circle cx="356.8" cy="73.7" r="2.8" fill="#ffffff" />
<circle cx="367.7" cy="88.6" r="2.8" fill="#ffffff" />
<circle cx="362.3" cy="75.9" r="4.2" fill="#ec5330" />
<circle cx="367.7" cy="82.3" r="4.2" fill="#ec5330" />
<circle cx="382.3" cy="68.6" r="2.8" fill="#ffffff" />
<circle cx="398.6" cy="78.6" r="2.8" fill="#ffffff" />
<circle cx="388.6" cy="68.6" r="4.2" fill="#ec5330" />
<circle cx="395.9" cy="72.3" r="4.2" fill="#ec5330" />
<circle cx="380.5" cy="98.6" r="2.8" fill="#ffffff" />
<circle cx="399" cy="100.5" r="2.8" fill="#ffffff" />
<circle cx="385.4" cy="102.6" r="4.2" fill="#ec5330" />
<circle cx="392.6" cy="102.6" r="4.2" fill="#ec5330" />
<circle cx="356.8" cy="112.3" r="2.8" fill="#ffffff" />
<circle cx="374" cy="105.5" r="2.8" fill="#ffffff" />
<circle cx="362.3" cy="114" r="4.2" fill="#ec5330" />
<circle cx="369.5" cy="110.5" r="4.2" fill="#ec5330" />
<circle cx="368.6" cy="132.3" r="2.8" fill="#ffffff" />
<circle cx="386" cy="125" r="2.8" fill="#ffffff" />
<circle cx="372.3" cy="126.8" r="4.2" fill="#ec5330" />
<circle cx="379.5" cy="123.7" r="4.2" fill="#ec5330" />
<circle cx="398.6" cy="123.2" r="2.8" fill="#ffffff" />
<circle cx="400.5" cy="142" r="2.8" fill="#ffffff" />
<circle cx="396" cy="129.2" r="4.2" fill="#ec5330" />
<circle cx="396.8" cy="136.5" r="4.2" fill="#ec5330" />
<circle cx="356.3" cy="137.7" r="2.8" fill="#ffffff" />
<circle cx="371.4" cy="148.3" r="2.8" fill="#ffffff" />
<circle cx="358" cy="144" r="4.2" fill="#ec5330" />
<circle cx="364.6" cy="147.7" r="4.2" fill="#ec5330" />
<circle cx="376.3" cy="154" r="2.8" fill="#ffffff" />
<circle cx="394" cy="153.2" r="2.8" fill="#ffffff" />
<circle cx="382.3" cy="156.8" r="4.2" fill="#ec5330" />
<circle cx="389.5" cy="155.4" r="4.2" fill="#ec5330" />
<circle cx="468.5" cy="76.7" r="4.7" fill="#ec5330" />
<circle cx="475" cy="82.5" r="4.7" fill="#ec5330" />
<circle cx="495.2" cy="74.7" r="4.7" fill="#ec5330" />
<circle cx="489.4" cy="81" r="4.7" fill="#ec5330" />
<circle cx="457" cy="93.3" r="4.7" fill="#ec5330" />
<circle cx="458.6" cy="101.3" r="4.7" fill="#ec5330" />
<circle cx="480" cy="92.8" r="4.7" fill="#ec5330" />
<circle cx="474" cy="98.6" r="4.7" fill="#ec5330" />
<circle cx="492.3" cy="113.7" r="4.7" fill="#ec5330" />
<circle cx="485.3" cy="117.5" r="4.7" fill="#ec5330" />
<circle cx="457.4" cy="124" r="4.7" fill="#ec5330" />
<circle cx="462.7" cy="131.3" r="4.7" fill="#ec5330" />
<circle cx="463.3" cy="150.2" r="4.7" fill="#ec5330" />
<circle cx="470.8" cy="149" r="4.7" fill="#ec5330" />
<circle cx="491.2" cy="144.6" r="4.7" fill="#ec5330" />
<circle cx="491.2" cy="152.5" r="4.7" fill="#ec5330" />
<rect x="352" y="63.2" width="152" height="100.6" fill="none" stroke="#27358a" stroke-width="1.5"/>
<text x="361.6" y="51.3" font-family="'Liberation Sans',Arial,sans-serif" font-size="8.9" font-weight="bold" fill="#222" text-anchor="start" >Catalyst</text>
<text x="402.3" y="45.4" font-family="'Liberation Sans',Arial,sans-serif" font-size="8.9" font-weight="bold" fill="#222" text-anchor="start" >Gas&#160; diffusion layer (GDL)</text>
<line x1="400" y1="52" x2="413.3" y2="61" stroke="#222" stroke-width="1" />
<line x1="449.6" y1="52.4" x2="436.5" y2="61" stroke="#222" stroke-width="1" />
<line x1="424.7" y1="165.5" x2="424.7" y2="175" stroke="#222" stroke-width="1.3" />
<text x="378.5" y="184" font-family="'Liberation Sans',Arial,sans-serif" font-size="9.08" font-weight="bold" fill="#222" text-anchor="start" >Microporous layer (MPL)</text>
</g>
<g id="pb">
<text x="46.8" y="228" font-family="'Liberation Serif','Times New Roman',serif" font-size="25" font-weight="bold" fill="#111" text-anchor="start" style="stroke:none">b</text>
<rect x="67" y="221.5" width="443.3" height="174.5" rx="27" ry="27" fill="none" stroke="#1a1a1a" stroke-width="1.9" stroke-dasharray="7.9 3.9"/>
<polygon points="82,268.4 89.6,261.8 89.6,388.4 82,373" fill="#f6f0b4" />
<polygon points="89.6,261.8 114.7,261.8 114.7,388.4 89.6,388.4" fill="url(#gYend)" />
<line x1="130.8" y1="233.5" x2="128.6" y2="294" stroke="#c9705c" stroke-width="0.8" />
<polygon points="125,293.5 132.2,293.5 132.2,343.6 125,341.5" fill="url(#gStrip)" />
<path d="M130.2,345 L134.6,374" fill="none" stroke="#222" stroke-width="1.2" stroke-dasharray="2.2 1.6"/><polygon points="135.3,378.5 131.6,373 137.1,372.1" fill="#111" />
<text x="120" y="388.8" font-family="'Liberation Sans',Arial,sans-serif" font-size="10.45" font-weight="bold" fill="#111" text-anchor="start" letter-spacing="0.2">Anode</text>
<polygon points="161.6,261.8 163.2,262.6 163.2,382.6 161.6,381.8" fill="#e58a8a" />
<path fill-rule="evenodd" fill="url(#gPinkG)" d="M139.4,269.5 L161.6,261.8 L161.6,381.8 L139.4,368.7 Z M145.3,302.2 L152.5,300.7 L152.5,340.8 L145.3,338.6 Z"/>
<circle cx="141.5" cy="279.5" r="0.7" fill="#e07a7a" />
<circle cx="157.4" cy="274.8" r="0.7" fill="#e07a7a" />
<circle cx="141.5" cy="358" r="0.7" fill="#e07a7a" />
<circle cx="157.4" cy="366.5" r="0.7" fill="#e07a7a" />
<ellipse cx="168.5" cy="309" rx="3.4" ry="5" fill="#ecece8"/>
<polygon points="169.8,272.7 192.7,264.4 192.7,384 169.8,371" fill="url(#gGold)" />
<polygon points="192.7,264.4 223.3,264.4 223.3,380.5 192.7,384" fill="url(#gYfront)" />
<polygon points="175.7,302.2 184.4,300.7 184.4,342.5 175.7,340.4" fill="#dcc36a" />
<polygon points="177.5,303.4 184.4,302.2 184.4,341 177.5,339.4" fill="#e6d27e" />
<text x="174" y="277.6" font-family="'Liberation Sans',Arial,sans-serif" font-size="10.45" font-weight="bold" fill="#111" text-anchor="start" letter-spacing="1.0">Anolyte</text>
<path fill-rule="evenodd" fill="url(#gPinkG)" d="M224.4,268.4 L259.3,261.8 L259.3,377.5 L224.4,364.4 Z M233,300 L244,298.5 L244,337.7 L233,336 Z"/>
<polygon points="246.8,271.5 256,269.8 256,371 246.8,367.8" fill="#ee867e" opacity="0.8"/>
<circle cx="226.5" cy="279" r="0.7" fill="#e07a7a" />
<circle cx="252.5" cy="274" r="0.7" fill="#e07a7a" />
<circle cx="226.5" cy="354" r="0.7" fill="#e07a7a" />
<circle cx="252.5" cy="363" r="0.7" fill="#e07a7a" />
<path d="M199,326.5 L216,327.5 L216,348.5 L199,346.5 Q194.5,337 199,326.5 Z" fill="#e9e9e4"/>
<ellipse cx="215.5" cy="337.4" rx="13.5" ry="10.6" fill="#f4f4f0"/>
<ellipse cx="215.8" cy="336.8" rx="3.9" ry="2.9" fill="#5b4a12"/>
<path fill-rule="evenodd" fill="url(#gPinkG2)" d="M269,269.6 L313,263.8 L313,375.3 L267.3,362 Z M281,301 L295.3,299.4 L295.3,336.6 L281,335 Z"/>
<polygon points="295.3,294 313,291 313,343 295.3,340" fill="#e97a7c" opacity="0.6"/>
<circle cx="272" cy="281" r="0.8" fill="#f7c6c2" />
<circle cx="307" cy="277" r="0.8" fill="#f7c6c2" />
<circle cx="272" cy="352" r="0.8" fill="#f7c6c2" />
<circle cx="307" cy="360" r="0.8" fill="#f7c6c2" />
<polygon points="260.2,295 276.7,295 276.7,341.5 260.2,338.8" fill="url(#gPEM)" />
<path d="M264.8,289 L264.8,249" fill="none" stroke="#222" stroke-width="1.2" stroke-dasharray="2.2 1.6"/><polygon points="264.8,243.8 267.6,249.8 262,249.8" fill="#111" />
<text x="251.7" y="240.9" font-family="'Liberation Sans',Arial,sans-serif" font-size="10.45" font-weight="bold" fill="#111" text-anchor="start" letter-spacing="0.5">PEM</text>
<text x="338" y="240.9" font-family="'Liberation Sans',Arial,sans-serif" font-size="10.45" font-weight="bold" fill="#111" text-anchor="start" letter-spacing="0.5">RE</text>
<polygon points="346.1,243 347.3,243 348.2,253 345.2,253" fill="#f3d2b5" />
<rect x="340.6" y="252.6" width="12.2" height="12.6" rx="2.5" fill="#f2cba9"/>
<rect x="342.6" y="250.5" width="8.2" height="4" rx="1.5" fill="#f4d3b6"/>
<polygon points="314.2,269 355.6,265.4 355.6,372.7 314.2,362.5" fill="url(#gGold2)" />
<polygon points="355.6,265.4 380,264.6 380,362.8 355.6,372.7" fill="url(#gYfront)" />
<polygon points="322.5,300.5 337,299 337,340.5 322.5,338.5" fill="#dcc56c" />
<polygon points="325.5,301.5 337,300.3 337,339 325.5,337.3" fill="#e8d684" />
<circle cx="350" cy="358" r="0.8" fill="#a88c20" />
<text x="318.4" y="277.6" font-family="'Liberation Sans',Arial,sans-serif" font-size="10.45" font-weight="bold" fill="#111" text-anchor="start" letter-spacing="0.78">Catholyte</text>
<path fill-rule="evenodd" fill="#ee7d78" d="M381.5,269.5 L411,265 L411,367.7 L381.5,360.4 Z M381.5,298 L390.5,298 L390.5,335 L381.5,335 Z"/>
<polygon points="380,269.8 381.6,269.5 381.6,298 380,298" fill="#ee7d78" />
<circle cx="402.7" cy="279" r="1.2" fill="#fbe9e6" />
<circle cx="402.7" cy="356" r="1.2" fill="#fbe9e6" />
<path d="M359,321 L382,319.5 L382,341.5 L359,341 Q355,331 359,321 Z" fill="url(#gTube)"/>
<ellipse cx="382.2" cy="330.4" rx="8.4" ry="11" fill="#f3f3ee"/>
<ellipse cx="380.8" cy="330.6" rx="3.3" ry="2.9" fill="#4e4010"/>
<line x1="408" y1="243.6" x2="408" y2="266" stroke="#c97a50" stroke-width="1.6" />
<polygon points="412.3,268.2 464,268.2 464,365.8 412.3,352.7" fill="url(#gGasF)" />
<polygon points="464,268.2 495.5,268.2 495.5,358.2 464,365.8" fill="#f1df63" />
<polygon points="420,292 452,292 459,285 459,345 452,338 420,338" fill="#e3c25a" opacity="0.7"/>
<rect x="421" y="295.5" width="30.5" height="3" fill="#a9852a"/>
<rect x="421" y="298.5" width="30.5" height="4.2" fill="#efd985"/>
<rect x="421" y="302.7" width="30.5" height="3" fill="#a9852a"/>
<rect x="421" y="305.7" width="30.5" height="4.2" fill="#efd985"/>
<rect x="421" y="309.9" width="30.5" height="3" fill="#a9852a"/>
<rect x="421" y="312.9" width="30.5" height="4.2" fill="#efd985"/>
<rect x="421" y="317.1" width="30.5" height="3" fill="#a9852a"/>
<rect x="421" y="320.1" width="30.5" height="4.2" fill="#efd985"/>
<rect x="421" y="324.3" width="30.5" height="3" fill="#a9852a"/>
<rect x="421" y="327.3" width="30.5" height="4.2" fill="#efd985"/>
<rect x="421" y="331.5" width="30.5" height="3" fill="#a9852a"/>
<rect x="421" y="334.5" width="30.5" height="4.2" fill="#efd985"/>
<line x1="421" y1="335.6" x2="470" y2="337.2" stroke="#b4923a" stroke-width="2.2" />
<rect x="468" y="335.3" width="11" height="4.4" rx="2" fill="#efeeea"/>
<circle cx="458.5" cy="281" r="0.8" fill="#a88c20" />
<circle cx="458.5" cy="352" r="0.8" fill="#a88c20" />
<polygon points="412.3,295.5 419.6,295.5 419.6,339 412.3,337.7" fill="#4a2b29" />
<path d="M417.2,340 L424.6,362.5" fill="none" stroke="#222" stroke-width="1.2" stroke-dasharray="2.2 1.6"/><polygon points="426.3,367.8 421.8,362.9 427.1,361.2" fill="#111" />
<text x="418.4" y="278.5" font-family="'Liberation Sans',Arial,sans-serif" font-size="10.45" font-weight="bold" fill="#111" text-anchor="start" letter-spacing="0.6">Gas cell</text>
<text x="378.9" y="378.2" font-family="'Liberation Sans',Arial,sans-serif" font-size="10.45" font-weight="bold" fill="#111" text-anchor="start" letter-spacing="0.75">Cathode catalyst</text>
</g>
<g id="pc">
<rect x="46.5" y="470" width="218" height="128.5" fill="url(#gCbg)"/>
<text x="45.4" y="434.8" font-family="'Liberation Serif','Times New Roman',serif" font-size="26" font-weight="bold" fill="#111" text-anchor="start" >c</text>
<polygon points="106,486.4 146,481 167.5,479.5 212.5,483.8 212.5,563.5 111.6,587.5" fill="url(#gWater)" />
<polygon points="106.2,486.4 146,481 167.5,479.5 167.5,533 150,548.5 108.2,564" fill="url(#gWaterBack)" />
<polygon points="108.2,564 150,548.5 167.5,533 212.5,563.5 111.6,587.5" fill="url(#gFloor)" />
<line x1="108.5" y1="564" x2="150" y2="548.5" stroke="#bcdcf2" stroke-width="0.8" />
<path d="M107,488 Q120,483.5 134,485.5 T167,481 L167.5,489 Q150,493 135,490 T107.5,495 Z" fill="#c5e3f7" opacity="0.9"/>
<path d="M146,487 Q156,481 167.5,483 L185,482 L167.5,492 Q158,496 146,493 Z" fill="#a8dcea" opacity="0.8"/>
<clipPath id="cpMesh"><polygon points="150,476 167.5,479 212.5,483.8 212.5,563 194.5,561 167.3,543 160,500"/></clipPath>
<g clip-path="url(#cpMesh)">
<polygon points="167.3,479.5 212.5,483.8 212.5,563 194.5,561 167.3,543" fill="#b4e1da" />
<polygon points="154.3,474.1 158.1,466.4 161.2,469.7 157.4,477.4" fill="#b0e1da" opacity="0.5"/>
<polygon points="158.1,466.4 161.2,469.7 159.3,472.1" fill="#ecfbf6" opacity="0.6"/>
<polygon points="154.3,474.1 157.4,477.4 156,473.2" fill="#7cc4c4" opacity="0.55"/>
<polygon points="162.1,475.3 166.1,467.6 169.5,470.9 165.4,478.6" fill="#c0ebe1" opacity="0.5"/>
<polygon points="166.1,467.6 169.5,470.9 167.4,473.3" fill="#ecfbf6" opacity="0.6"/>
<polygon points="162.1,475.3 165.4,478.6 163.9,474.4" fill="#7cc4c4" opacity="0.55"/>
<polygon points="169.9,476.5 174.2,468.8 177.7,472.1 173.4,479.8" fill="#dff7f0" opacity="1.0"/>
<polygon points="174.2,468.8 177.7,472.1 175.6,474.5" fill="#ecfbf6" opacity="0.6"/>
<polygon points="169.9,476.5 173.4,479.8 171.8,475.6" fill="#7cc4c4" opacity="0.55"/>
<polygon points="177.7,477.7 182.2,470 185.9,473.3 181.4,481" fill="#88cccb" opacity="1.0"/>
<polygon points="182.2,470 185.9,473.3 183.7,475.7" fill="#ecfbf6" opacity="0.6"/>
<polygon points="177.7,477.7 181.4,481 179.8,476.8" fill="#7cc4c4" opacity="0.55"/>
<polygon points="185.5,478.9 190.3,471.2 194.2,474.5 189.4,482.2" fill="#c0ebe1" opacity="1.0"/>
<polygon points="190.3,471.2 194.2,474.5 191.8,476.9" fill="#ecfbf6" opacity="0.6"/>
<polygon points="185.5,478.9 189.4,482.2 187.7,478" fill="#7cc4c4" opacity="0.55"/>
<polygon points="193.3,480.1 198.3,472.4 202.4,475.7 197.4,483.4" fill="#88cccb" opacity="1.0"/>
<polygon points="198.3,472.4 202.4,475.7 199.9,478.1" fill="#ecfbf6" opacity="0.6"/>
<polygon points="193.3,480.1 197.4,483.4 195.6,479.2" fill="#7cc4c4" opacity="0.55"/>
<polygon points="201.1,481.3 206.4,473.6 210.7,476.9 205.4,484.6" fill="#dff7f0" opacity="1.0"/>
<polygon points="206.4,473.6 210.7,476.9 208,479.3" fill="#ecfbf6" opacity="0.6"/>
<polygon points="201.1,481.3 205.4,484.6 203.5,480.4" fill="#7cc4c4" opacity="0.55"/>
<polygon points="208.9,482.5 214.4,474.8 218.9,478.1 213.4,485.8" fill="#c0ebe1" opacity="1.0"/>
<polygon points="214.4,474.8 218.9,478.1 216.2,480.5" fill="#ecfbf6" opacity="0.6"/>
<polygon points="208.9,482.5 213.4,485.8 211.4,481.6" fill="#7cc4c4" opacity="0.55"/>
<polygon points="216.7,483.7 222.4,476 227.1,479.3 221.4,487" fill="#c0ebe1" opacity="1.0"/>
<polygon points="222.4,476 227.1,479.3 224.3,481.7" fill="#ecfbf6" opacity="0.6"/>
<polygon points="216.7,483.7 221.4,487 219.3,482.8" fill="#7cc4c4" opacity="0.55"/>
<polygon points="150.4,483.3 154.2,475.6 157.3,478.9 153.5,486.6" fill="#cdf1e7" opacity="0.5"/>
<polygon points="154.2,475.6 157.3,478.9 155.4,481.3" fill="#ecfbf6" opacity="0.6"/>
<polygon points="150.4,483.3 153.5,486.6 152.1,482.4" fill="#7cc4c4" opacity="0.55"/>
<polygon points="158.2,484.5 162.2,476.8 165.6,480.1 161.5,487.8" fill="#b0e1da" opacity="0.5"/>
<polygon points="162.2,476.8 165.6,480.1 163.5,482.5" fill="#ecfbf6" opacity="0.6"/>
<polygon points="158.2,484.5 161.5,487.8 160,483.6" fill="#7cc4c4" opacity="0.55"/>
<polygon points="166,485.7 170.3,478 173.8,481.3 169.5,489" fill="#b0e1da" opacity="1.0"/>
<polygon points="170.3,478 173.8,481.3 171.7,483.7" fill="#ecfbf6" opacity="0.6"/>
<polygon points="166,485.7 169.5,489 167.9,484.8" fill="#7cc4c4" opacity="0.55"/>
<polygon points="173.8,486.9 178.3,479.2 182,482.5 177.5,490.2" fill="#88cccb" opacity="1.0"/>
<polygon points="178.3,479.2 182,482.5 179.8,484.9" fill="#ecfbf6" opacity="0.6"/>
<polygon points="173.8,486.9 177.5,490.2 175.9,486" fill="#7cc4c4" opacity="0.55"/>
<polygon points="181.6,488.1 186.4,480.4 190.3,483.7 185.5,491.4" fill="#dff7f0" opacity="1.0"/>
<polygon points="186.4,480.4 190.3,483.7 187.9,486.1" fill="#ecfbf6" opacity="0.6"/>
<polygon points="181.6,488.1 185.5,491.4 183.8,487.2" fill="#7cc4c4" opacity="0.55"/>
<polygon points="189.4,489.3 194.4,481.6 198.5,484.9 193.5,492.6" fill="#c0ebe1" opacity="1.0"/>
<polygon points="194.4,481.6 198.5,484.9 196,487.3" fill="#ecfbf6" opacity="0.6"/>
<polygon points="189.4,489.3 193.5,492.6 191.7,488.4" fill="#7cc4c4" opacity="0.55"/>
<polygon points="197.2,490.5 202.5,482.8 206.8,486.1 201.5,493.8" fill="#cdf1e7" opacity="1.0"/>
<polygon points="202.5,482.8 206.8,486.1 204.1,488.5" fill="#ecfbf6" opacity="0.6"/>
<polygon points="197.2,490.5 201.5,493.8 199.6,489.6" fill="#7cc4c4" opacity="0.55"/>
<polygon points="205,491.7 210.5,484 215,487.3 209.5,495" fill="#cdf1e7" opacity="1.0"/>
<polygon points="210.5,484 215,487.3 212.2,489.7" fill="#ecfbf6" opacity="0.6"/>
<polygon points="205,491.7 209.5,495 207.5,490.8" fill="#7cc4c4" opacity="0.55"/>
<polygon points="212.8,492.9 218.5,485.2 223.2,488.5 217.5,496.2" fill="#dff7f0" opacity="1.0"/>
<polygon points="218.5,485.2 223.2,488.5 220.4,490.9" fill="#ecfbf6" opacity="0.6"/>
<polygon points="212.8,492.9 217.5,496.2 215.4,492" fill="#7cc4c4" opacity="0.55"/>
<polygon points="154.3,492.5 158.1,484.8 161.2,488.1 157.4,495.8" fill="#c0ebe1" opacity="0.5"/>
<polygon points="158.1,484.8 161.2,488.1 159.3,490.5" fill="#ecfbf6" opacity="0.6"/>
<polygon points="154.3,492.5 157.4,495.8 156,491.6" fill="#7cc4c4" opacity="0.55"/>
<polygon points="162.1,493.7 166.1,486 169.5,489.3 165.4,497" fill="#c0ebe1" opacity="0.5"/>
<polygon points="166.1,486 169.5,489.3 167.4,491.7" fill="#ecfbf6" opacity="0.6"/>
<polygon points="162.1,493.7 165.4,497 163.9,492.8" fill="#7cc4c4" opacity="0.55"/>
<polygon points="169.9,494.9 174.2,487.2 177.7,490.5 173.4,498.2" fill="#dff7f0" opacity="1.0"/>
<polygon points="174.2,487.2 177.7,490.5 175.6,492.9" fill="#ecfbf6" opacity="0.6"/>
<polygon points="169.9,494.9 173.4,498.2 171.8,494" fill="#7cc4c4" opacity="0.55"/>
<polygon points="177.7,496.1 182.2,488.4 185.9,491.7 181.4,499.4" fill="#c0ebe1" opacity="1.0"/>
<polygon points="182.2,488.4 185.9,491.7 183.7,494.1" fill="#ecfbf6" opacity="0.6"/>
<polygon points="177.7,496.1 181.4,499.4 179.8,495.2" fill="#7cc4c4" opacity="0.55"/>
<polygon points="185.5,497.3 190.3,489.6 194.2,492.9 189.4,500.6" fill="#cdf1e7" opacity="1.0"/>
<polygon points="190.3,489.6 194.2,492.9 191.8,495.3" fill="#ecfbf6" opacity="0.6"/>
<polygon points="185.5,497.3 189.4,500.6 187.7,496.4" fill="#7cc4c4" opacity="0.55"/>
<polygon points="193.3,498.5 198.3,490.8 202.4,494.1 197.4,501.8" fill="#cdf1e7" opacity="1.0"/>
<polygon points="198.3,490.8 202.4,494.1 199.9,496.5" fill="#ecfbf6" opacity="0.6"/>
<polygon points="193.3,498.5 197.4,501.8 195.6,497.6" fill="#7cc4c4" opacity="0.55"/>
<polygon points="201.1,499.7 206.4,492 210.7,495.3 205.4,503" fill="#b0e1da" opacity="1.0"/>
<polygon points="206.4,492 210.7,495.3 208,497.7" fill="#ecfbf6" opacity="0.6"/>
<polygon points="201.1,499.7 205.4,503 203.5,498.8" fill="#7cc4c4" opacity="0.55"/>
<polygon points="208.9,500.9 214.4,493.2 218.9,496.5 213.4,504.2" fill="#c0ebe1" opacity="1.0"/>
<polygon points="214.4,493.2 218.9,496.5 216.2,498.9" fill="#ecfbf6" opacity="0.6"/>
<polygon points="208.9,500.9 213.4,504.2 211.4,500" fill="#7cc4c4" opacity="0.55"/>
<polygon points="216.7,502.1 222.4,494.4 227.1,497.7 221.4,505.4" fill="#88cccb" opacity="1.0"/>
<polygon points="222.4,494.4 227.1,497.7 224.3,500.1" fill="#ecfbf6" opacity="0.6"/>
<polygon points="216.7,502.1 221.4,505.4 219.3,501.2" fill="#7cc4c4" opacity="0.55"/>
<polygon points="150.4,501.7 154.2,494 157.3,497.3 153.5,505" fill="#b0e1da" opacity="0.5"/>
<polygon points="154.2,494 157.3,497.3 155.4,499.7" fill="#ecfbf6" opacity="0.6"/>
<polygon points="150.4,501.7 153.5,505 152.1,500.8" fill="#7cc4c4" opacity="0.55"/>
<polygon points="158.2,502.9 162.2,495.2 165.6,498.5 161.5,506.2" fill="#9bd6d0" opacity="0.5"/>
<polygon points="162.2,495.2 165.6,498.5 163.5,500.9" fill="#ecfbf6" opacity="0.6"/>
<polygon points="158.2,502.9 161.5,506.2 160,502" fill="#7cc4c4" opacity="0.55"/>
<polygon points="166,504.1 170.3,496.4 173.8,499.7 169.5,507.4" fill="#cdf1e7" opacity="1.0"/>
<polygon points="170.3,496.4 173.8,499.7 171.7,502.1" fill="#ecfbf6" opacity="0.6"/>
<polygon points="166,504.1 169.5,507.4 167.9,503.2" fill="#7cc4c4" opacity="0.55"/>
<polygon points="173.8,505.3 178.3,497.6 182,500.9 177.5,508.6" fill="#88cccb" opacity="1.0"/>
<polygon points="178.3,497.6 182,500.9 179.8,503.3" fill="#ecfbf6" opacity="0.6"/>
<polygon points="173.8,505.3 177.5,508.6 175.9,504.4" fill="#7cc4c4" opacity="0.55"/>
<polygon points="181.6,506.5 186.4,498.8 190.3,502.1 185.5,509.8" fill="#b0e1da" opacity="1.0"/>
<polygon points="186.4,498.8 190.3,502.1 187.9,504.5" fill="#ecfbf6" opacity="0.6"/>
<polygon points="181.6,506.5 185.5,509.8 183.8,505.6" fill="#7cc4c4" opacity="0.55"/>
<polygon points="189.4,507.7 194.4,500 198.5,503.3 193.5,511" fill="#9bd6d0" opacity="1.0"/>
<polygon points="194.4,500 198.5,503.3 196,505.7" fill="#ecfbf6" opacity="0.6"/>
<polygon points="189.4,507.7 193.5,511 191.7,506.8" fill="#7cc4c4" opacity="0.55"/>
<polygon points="197.2,508.9 202.5,501.2 206.8,504.5 201.5,512.2" fill="#cdf1e7" opacity="1.0"/>
<polygon points="202.5,501.2 206.8,504.5 204.1,506.9" fill="#ecfbf6" opacity="0.6"/>
<polygon points="197.2,508.9 201.5,512.2 199.6,508" fill="#7cc4c4" opacity="0.55"/>
<polygon points="205,510.1 210.5,502.4 215,505.7 209.5,513.4" fill="#dff7f0" opacity="1.0"/>
<polygon points="210.5,502.4 215,505.7 212.2,508.1" fill="#ecfbf6" opacity="0.6"/>
<polygon points="205,510.1 209.5,513.4 207.5,509.2" fill="#7cc4c4" opacity="0.55"/>
<polygon points="212.8,511.3 218.5,503.6 223.2,506.9 217.5,514.6" fill="#9bd6d0" opacity="1.0"/>
<polygon points="218.5,503.6 223.2,506.9 220.4,509.3" fill="#ecfbf6" opacity="0.6"/>
<polygon points="212.8,511.3 217.5,514.6 215.4,510.4" fill="#7cc4c4" opacity="0.55"/>
<polygon points="154.3,510.9 158.1,503.2 161.2,506.5 157.4,514.2" fill="#cdf1e7" opacity="0.5"/>
<polygon points="158.1,503.2 161.2,506.5 159.3,508.9" fill="#ecfbf6" opacity="0.6"/>
<polygon points="154.3,510.9 157.4,514.2 156,510" fill="#7cc4c4" opacity="0.55"/>
<polygon points="162.1,512.1 166.1,504.4 169.5,507.7 165.4,515.4" fill="#88cccb" opacity="0.5"/>
<polygon points="166.1,504.4 169.5,507.7 167.4,510.1" fill="#ecfbf6" opacity="0.6"/>
<polygon points="162.1,512.1 165.4,515.4 163.9,511.2" fill="#7cc4c4" opacity="0.55"/>
<polygon points="169.9,513.3 174.2,505.6 177.7,508.9 173.4,516.6" fill="#88cccb" opacity="1.0"/>
<polygon points="174.2,505.6 177.7,508.9 175.6,511.3" fill="#ecfbf6" opacity="0.6"/>
<polygon points="169.9,513.3 173.4,516.6 171.8,512.4" fill="#7cc4c4" opacity="0.55"/>
<polygon points="177.7,514.5 182.2,506.8 185.9,510.1 181.4,517.8" fill="#9bd6d0" opacity="1.0"/>
<polygon points="182.2,506.8 185.9,510.1 183.7,512.5" fill="#ecfbf6" opacity="0.6"/>
<polygon points="177.7,514.5 181.4,517.8 179.8,513.6" fill="#7cc4c4" opacity="0.55"/>
<polygon points="185.5,515.7 190.3,508 194.2,511.3 189.4,519" fill="#88cccb" opacity="1.0"/>
<polygon points="190.3,508 194.2,511.3 191.8,513.7" fill="#ecfbf6" opacity="0.6"/>
<polygon points="185.5,515.7 189.4,519 187.7,514.8" fill="#7cc4c4" opacity="0.55"/>
<polygon points="193.3,516.9 198.3,509.2 202.4,512.5 197.4,520.2" fill="#88cccb" opacity="1.0"/>
<polygon points="198.3,509.2 202.4,512.5 199.9,514.9" fill="#ecfbf6" opacity="0.6"/>
<polygon points="193.3,516.9 197.4,520.2 195.6,516" fill="#7cc4c4" opacity="0.55"/>
<polygon points="201.1,518.1 206.4,510.4 210.7,513.7 205.4,521.4" fill="#dff7f0" opacity="1.0"/>
<polygon points="206.4,510.4 210.7,513.7 208,516.1" fill="#ecfbf6" opacity="0.6"/>
<polygon points="201.1,518.1 205.4,521.4 203.5,517.2" fill="#7cc4c4" opacity="0.55"/>
<polygon points="208.9,519.3 214.4,511.6 218.9,514.9 213.4,522.6" fill="#cdf1e7" opacity="1.0"/>
<polygon points="214.4,511.6 218.9,514.9 216.2,517.3" fill="#ecfbf6" opacity="0.6"/>
<polygon points="208.9,519.3 213.4,522.6 211.4,518.4" fill="#7cc4c4" opacity="0.55"/>
<polygon points="216.7,520.5 222.4,512.8 227.1,516.1 221.4,523.8" fill="#88cccb" opacity="1.0"/>
<polygon points="222.4,512.8 227.1,516.1 224.3,518.5" fill="#ecfbf6" opacity="0.6"/>
<polygon points="216.7,520.5 221.4,523.8 219.3,519.6" fill="#7cc4c4" opacity="0.55"/>
<polygon points="150.4,520.1 154.2,512.4 157.3,515.7 153.5,523.4" fill="#dff7f0" opacity="0.5"/>
<polygon points="154.2,512.4 157.3,515.7 155.4,518.1" fill="#ecfbf6" opacity="0.6"/>
<polygon points="150.4,520.1 153.5,523.4 152.1,519.2" fill="#7cc4c4" opacity="0.55"/>
<polygon points="158.2,521.3 162.2,513.6 165.6,516.9 161.5,524.6" fill="#cdf1e7" opacity="0.5"/>
<polygon points="162.2,513.6 165.6,516.9 163.5,519.3" fill="#ecfbf6" opacity="0.6"/>
<polygon points="158.2,521.3 161.5,524.6 160,520.4" fill="#7cc4c4" opacity="0.55"/>
<polygon points="166,522.5 170.3,514.8 173.8,518.1 169.5,525.8" fill="#cdf1e7" opacity="1.0"/>
<polygon points="170.3,514.8 173.8,518.1 171.7,520.5" fill="#ecfbf6" opacity="0.6"/>
<polygon points="166,522.5 169.5,525.8 167.9,521.6" fill="#7cc4c4" opacity="0.55"/>
<polygon points="173.8,523.7 178.3,516 182,519.3 177.5,527" fill="#88cccb" opacity="1.0"/>
<polygon points="178.3,516 182,519.3 179.8,521.7" fill="#ecfbf6" opacity="0.6"/>
<polygon points="173.8,523.7 177.5,527 175.9,522.8" fill="#7cc4c4" opacity="0.55"/>
<polygon points="181.6,524.9 186.4,517.2 190.3,520.5 185.5,528.2" fill="#c0ebe1" opacity="1.0"/>
<polygon points="186.4,517.2 190.3,520.5 187.9,522.9" fill="#ecfbf6" opacity="0.6"/>
<polygon points="181.6,524.9 185.5,528.2 183.8,524" fill="#7cc4c4" opacity="0.55"/>
<polygon points="189.4,526.1 194.4,518.4 198.5,521.7 193.5,529.4" fill="#c0ebe1" opacity="1.0"/>
<polygon points="194.4,518.4 198.5,521.7 196,524.1" fill="#ecfbf6" opacity="0.6"/>
<polygon points="189.4,526.1 193.5,529.4 191.7,525.2" fill="#7cc4c4" opacity="0.55"/>
<polygon points="197.2,527.3 202.5,519.6 206.8,522.9 201.5,530.6" fill="#dff7f0" opacity="1.0"/>
<polygon points="202.5,519.6 206.8,522.9 204.1,525.3" fill="#ecfbf6" opacity="0.6"/>
<polygon points="197.2,527.3 201.5,530.6 199.6,526.4" fill="#7cc4c4" opacity="0.55"/>
<polygon points="205,528.5 210.5,520.8 215,524.1 209.5,531.8" fill="#dff7f0" opacity="1.0"/>
<polygon points="210.5,520.8 215,524.1 212.2,526.5" fill="#ecfbf6" opacity="0.6"/>
<polygon points="205,528.5 209.5,531.8 207.5,527.6" fill="#7cc4c4" opacity="0.55"/>
<polygon points="212.8,529.7 218.5,522 223.2,525.3 217.5,533" fill="#9bd6d0" opacity="1.0"/>
<polygon points="218.5,522 223.2,525.3 220.4,527.7" fill="#ecfbf6" opacity="0.6"/>
<polygon points="212.8,529.7 217.5,533 215.4,528.8" fill="#7cc4c4" opacity="0.55"/>
<polygon points="154.3,529.3 158.1,521.6 161.2,524.9 157.4,532.6" fill="#cdf1e7" opacity="0.5"/>
<polygon points="158.1,521.6 161.2,524.9 159.3,527.3" fill="#ecfbf6" opacity="0.6"/>
<polygon points="154.3,529.3 157.4,532.6 156,528.4" fill="#7cc4c4" opacity="0.55"/>
<polygon points="162.1,530.5 166.1,522.8 169.5,526.1 165.4,533.8" fill="#c8efe5" opacity="0.5"/>
<polygon points="166.1,522.8 169.5,526.1 167.4,528.5" fill="#ecfbf6" opacity="0.6"/>
<polygon points="162.1,530.5 165.4,533.8 163.9,529.6" fill="#7cc4c4" opacity="0.55"/>
<polygon points="169.9,531.7 174.2,524 177.7,527.3 173.4,535" fill="#b0e1da" opacity="1.0"/>
<polygon points="174.2,524 177.7,527.3 175.6,529.7" fill="#ecfbf6" opacity="0.6"/>
<polygon points="169.9,531.7 173.4,535 171.8,530.8" fill="#7cc4c4" opacity="0.55"/>
<polygon points="177.7,532.9 182.2,525.2 185.9,528.5 181.4,536.2" fill="#cdf1e7" opacity="1.0"/>
<polygon points="182.2,525.2 185.9,528.5 183.7,530.9" fill="#ecfbf6" opacity="0.6"/>
<polygon points="177.7,532.9 181.4,536.2 179.8,532" fill="#7cc4c4" opacity="0.55"/>
<polygon points="185.5,534.1 190.3,526.4 194.2,529.7 189.4,537.4" fill="#cdf1e7" opacity="1.0"/>
<polygon points="190.3,526.4 194.2,529.7 191.8,532.1" fill="#ecfbf6" opacity="0.6"/>
<polygon points="185.5,534.1 189.4,537.4 187.7,533.2" fill="#7cc4c4" opacity="0.55"/>
<polygon points="193.3,535.3 198.3,527.6 202.4,530.9 197.4,538.6" fill="#88cccb" opacity="1.0"/>
<polygon points="198.3,527.6 202.4,530.9 199.9,533.3" fill="#ecfbf6" opacity="0.6"/>
<polygon points="193.3,535.3 197.4,538.6 195.6,534.4" fill="#7cc4c4" opacity="0.55"/>
<polygon points="201.1,536.5 206.4,528.8 210.7,532.1 205.4,539.8" fill="#c0ebe1" opacity="1.0"/>
<polygon points="206.4,528.8 210.7,532.1 208,534.5" fill="#ecfbf6" opacity="0.6"/>
<polygon points="201.1,536.5 205.4,539.8 203.5,535.6" fill="#7cc4c4" opacity="0.55"/>
<polygon points="208.9,537.7 214.4,530 218.9,533.3 213.4,541" fill="#88cccb" opacity="1.0"/>
<polygon points="214.4,530 218.9,533.3 216.2,535.7" fill="#ecfbf6" opacity="0.6"/>
<polygon points="208.9,537.7 213.4,541 211.4,536.8" fill="#7cc4c4" opacity="0.55"/>
<polygon points="216.7,538.9 222.4,531.2 227.1,534.5 221.4,542.2" fill="#88cccb" opacity="1.0"/>
<polygon points="222.4,531.2 227.1,534.5 224.3,536.9" fill="#ecfbf6" opacity="0.6"/>
<polygon points="216.7,538.9 221.4,542.2 219.3,538" fill="#7cc4c4" opacity="0.55"/>
<polygon points="150.4,538.5 154.2,530.8 157.3,534.1 153.5,541.8" fill="#c0ebe1" opacity="0.5"/>
<polygon points="154.2,530.8 157.3,534.1 155.4,536.5" fill="#ecfbf6" opacity="0.6"/>
<polygon points="150.4,538.5 153.5,541.8 152.1,537.6" fill="#7cc4c4" opacity="0.55"/>
<polygon points="158.2,539.7 162.2,532 165.6,535.3 161.5,543" fill="#c0ebe1" opacity="0.5"/>
<polygon points="162.2,532 165.6,535.3 163.5,537.7" fill="#ecfbf6" opacity="0.6"/>
<polygon points="158.2,539.7 161.5,543 160,538.8" fill="#7cc4c4" opacity="0.55"/>
<polygon points="166,540.9 170.3,533.2 173.8,536.5 169.5,544.2" fill="#cdf1e7" opacity="1.0"/>
<polygon points="170.3,533.2 173.8,536.5 171.7,538.9" fill="#ecfbf6" opacity="0.6"/>
<polygon points="166,540.9 169.5,544.2 167.9,540" fill="#7cc4c4" opacity="0.55"/>
<polygon points="173.8,542.1 178.3,534.4 182,537.7 177.5,545.4" fill="#9bd6d0" opacity="1.0"/>
<polygon points="178.3,534.4 182,537.7 179.8,540.1" fill="#ecfbf6" opacity="0.6"/>
<polygon points="173.8,542.1 177.5,545.4 175.9,541.2" fill="#7cc4c4" opacity="0.55"/>
<polygon points="181.6,543.3 186.4,535.6 190.3,538.9 185.5,546.6" fill="#b0e1da" opacity="1.0"/>
<polygon points="186.4,535.6 190.3,538.9 187.9,541.3" fill="#ecfbf6" opacity="0.6"/>
<polygon points="181.6,543.3 185.5,546.6 183.8,542.4" fill="#7cc4c4" opacity="0.55"/>
<polygon points="189.4,544.5 194.4,536.8 198.5,540.1 193.5,547.8" fill="#cdf1e7" opacity="1.0"/>
<polygon points="194.4,536.8 198.5,540.1 196,542.5" fill="#ecfbf6" opacity="0.6"/>
<polygon points="189.4,544.5 193.5,547.8 191.7,543.6" fill="#7cc4c4" opacity="0.55"/>
<polygon points="197.2,545.7 202.5,538 206.8,541.3 201.5,549" fill="#c8efe5" opacity="1.0"/>
<polygon points="202.5,538 206.8,541.3 204.1,543.7" fill="#ecfbf6" opacity="0.6"/>
<polygon points="197.2,545.7 201.5,549 199.6,544.8" fill="#7cc4c4" opacity="0.55"/>
<polygon points="205,546.9 210.5,539.2 215,542.5 209.5,550.2" fill="#c0ebe1" opacity="1.0"/>
<polygon points="210.5,539.2 215,542.5 212.2,544.9" fill="#ecfbf6" opacity="0.6"/>
<polygon points="205,546.9 209.5,550.2 207.5,546" fill="#7cc4c4" opacity="0.55"/>
<polygon points="212.8,548.1 218.5,540.4 223.2,543.7 217.5,551.4" fill="#9bd6d0" opacity="1.0"/>
<polygon points="218.5,540.4 223.2,543.7 220.4,546.1" fill="#ecfbf6" opacity="0.6"/>
<polygon points="212.8,548.1 217.5,551.4 215.4,547.2" fill="#7cc4c4" opacity="0.55"/>
<polygon points="154.3,547.7 158.1,540 161.2,543.3 157.4,551" fill="#dff7f0" opacity="0.5"/>
<polygon points="158.1,540 161.2,543.3 159.3,545.7" fill="#ecfbf6" opacity="0.6"/>
<polygon points="154.3,547.7 157.4,551 156,546.8" fill="#7cc4c4" opacity="0.55"/>
<polygon points="162.1,548.9 166.1,541.2 169.5,544.5 165.4,552.2" fill="#b0e1da" opacity="0.5"/>
<polygon points="166.1,541.2 169.5,544.5 167.4,546.9" fill="#ecfbf6" opacity="0.6"/>
<polygon points="162.1,548.9 165.4,552.2 163.9,548" fill="#7cc4c4" opacity="0.55"/>
<polygon points="169.9,550.1 174.2,542.4 177.7,545.7 173.4,553.4" fill="#c0ebe1" opacity="1.0"/>
<polygon points="174.2,542.4 177.7,545.7 175.6,548.1" fill="#ecfbf6" opacity="0.6"/>
<polygon points="169.9,550.1 173.4,553.4 171.8,549.2" fill="#7cc4c4" opacity="0.55"/>
<polygon points="177.7,551.3 182.2,543.6 185.9,546.9 181.4,554.6" fill="#88cccb" opacity="1.0"/>
<polygon points="182.2,543.6 185.9,546.9 183.7,549.3" fill="#ecfbf6" opacity="0.6"/>
<polygon points="177.7,551.3 181.4,554.6 179.8,550.4" fill="#7cc4c4" opacity="0.55"/>
<polygon points="185.5,552.5 190.3,544.8 194.2,548.1 189.4,555.8" fill="#dff7f0" opacity="1.0"/>
<polygon points="190.3,544.8 194.2,548.1 191.8,550.5" fill="#ecfbf6" opacity="0.6"/>
<polygon points="185.5,552.5 189.4,555.8 187.7,551.6" fill="#7cc4c4" opacity="0.55"/>
<polygon points="193.3,553.7 198.3,546 202.4,549.3 197.4,557" fill="#dff7f0" opacity="1.0"/>
<polygon points="198.3,546 202.4,549.3 199.9,551.7" fill="#ecfbf6" opacity="0.6"/>
<polygon points="193.3,553.7 197.4,557 195.6,552.8" fill="#7cc4c4" opacity="0.55"/>
<polygon points="201.1,554.9 206.4,547.2 210.7,550.5 205.4,558.2" fill="#c0ebe1" opacity="1.0"/>
<polygon points="206.4,547.2 210.7,550.5 208,552.9" fill="#ecfbf6" opacity="0.6"/>
<polygon points="201.1,554.9 205.4,558.2 203.5,554" fill="#7cc4c4" opacity="0.55"/>
<polygon points="208.9,556.1 214.4,548.4 218.9,551.7 213.4,559.4" fill="#c8efe5" opacity="1.0"/>
<polygon points="214.4,548.4 218.9,551.7 216.2,554.1" fill="#ecfbf6" opacity="0.6"/>
<polygon points="208.9,556.1 213.4,559.4 211.4,555.2" fill="#7cc4c4" opacity="0.55"/>
<polygon points="216.7,557.3 222.4,549.6 227.1,552.9 221.4,560.6" fill="#dff7f0" opacity="1.0"/>
<polygon points="222.4,549.6 227.1,552.9 224.3,555.3" fill="#ecfbf6" opacity="0.6"/>
<polygon points="216.7,557.3 221.4,560.6 219.3,556.4" fill="#7cc4c4" opacity="0.55"/>
<polygon points="150.4,556.9 154.2,549.2 157.3,552.5 153.5,560.2" fill="#b0e1da" opacity="0.5"/>
<polygon points="154.2,549.2 157.3,552.5 155.4,554.9" fill="#ecfbf6" opacity="0.6"/>
<polygon points="150.4,556.9 153.5,560.2 152.1,556" fill="#7cc4c4" opacity="0.55"/>
<polygon points="158.2,558.1 162.2,550.4 165.6,553.7 161.5,561.4" fill="#88cccb" opacity="0.5"/>
<polygon points="162.2,550.4 165.6,553.7 163.5,556.1" fill="#ecfbf6" opacity="0.6"/>
<polygon points="158.2,558.1 161.5,561.4 160,557.2" fill="#7cc4c4" opacity="0.55"/>
<polygon points="166,559.3 170.3,551.6 173.8,554.9 169.5,562.6" fill="#88cccb" opacity="1.0"/>
<polygon points="170.3,551.6 173.8,554.9 171.7,557.3" fill="#ecfbf6" opacity="0.6"/>
<polygon points="166,559.3 169.5,562.6 167.9,558.4" fill="#7cc4c4" opacity="0.55"/>
<polygon points="173.8,560.5 178.3,552.8 182,556.1 177.5,563.8" fill="#b0e1da" opacity="1.0"/>
<polygon points="178.3,552.8 182,556.1 179.8,558.5" fill="#ecfbf6" opacity="0.6"/>
<polygon points="173.8,560.5 177.5,563.8 175.9,559.6" fill="#7cc4c4" opacity="0.55"/>
<polygon points="181.6,561.7 186.4,554 190.3,557.3 185.5,565" fill="#c8efe5" opacity="1.0"/>
<polygon points="186.4,554 190.3,557.3 187.9,559.7" fill="#ecfbf6" opacity="0.6"/>
<polygon points="181.6,561.7 185.5,565 183.8,560.8" fill="#7cc4c4" opacity="0.55"/>
<polygon points="189.4,562.9 194.4,555.2 198.5,558.5 193.5,566.2" fill="#cdf1e7" opacity="1.0"/>
<polygon points="194.4,555.2 198.5,558.5 196,560.9" fill="#ecfbf6" opacity="0.6"/>
<polygon points="189.4,562.9 193.5,566.2 191.7,562" fill="#7cc4c4" opacity="0.55"/>
<polygon points="197.2,564.1 202.5,556.4 206.8,559.7 201.5,567.4" fill="#9bd6d0" opacity="1.0"/>
<polygon points="202.5,556.4 206.8,559.7 204.1,562.1" fill="#ecfbf6" opacity="0.6"/>
<polygon points="197.2,564.1 201.5,567.4 199.6,563.2" fill="#7cc4c4" opacity="0.55"/>
<polygon points="205,565.3 210.5,557.6 215,560.9 209.5,568.6" fill="#c0ebe1" opacity="1.0"/>
<polygon points="210.5,557.6 215,560.9 212.2,563.3" fill="#ecfbf6" opacity="0.6"/>
<polygon points="205,565.3 209.5,568.6 207.5,564.4" fill="#7cc4c4" opacity="0.55"/>
<polygon points="212.8,566.5 218.5,558.8 223.2,562.1 217.5,569.8" fill="#cdf1e7" opacity="1.0"/>
<polygon points="218.5,558.8 223.2,562.1 220.4,564.5" fill="#ecfbf6" opacity="0.6"/>
<polygon points="212.8,566.5 217.5,569.8 215.4,565.6" fill="#7cc4c4" opacity="0.55"/>
<polygon points="154.3,566.1 158.1,558.4 161.2,561.7 157.4,569.4" fill="#88cccb" opacity="0.5"/>
<polygon points="158.1,558.4 161.2,561.7 159.3,564.1" fill="#ecfbf6" opacity="0.6"/>
<polygon points="154.3,566.1 157.4,569.4 156,565.2" fill="#7cc4c4" opacity="0.55"/>
<polygon points="162.1,567.3 166.1,559.6 169.5,562.9 165.4,570.6" fill="#9bd6d0" opacity="0.5"/>
<polygon points="166.1,559.6 169.5,562.9 167.4,565.3" fill="#ecfbf6" opacity="0.6"/>
<polygon points="162.1,567.3 165.4,570.6 163.9,566.4" fill="#7cc4c4" opacity="0.55"/>
<polygon points="169.9,568.5 174.2,560.8 177.7,564.1 173.4,571.8" fill="#c0ebe1" opacity="1.0"/>
<polygon points="174.2,560.8 177.7,564.1 175.6,566.5" fill="#ecfbf6" opacity="0.6"/>
<polygon points="169.9,568.5 173.4,571.8 171.8,567.6" fill="#7cc4c4" opacity="0.55"/>
<polygon points="177.7,569.7 182.2,562 185.9,565.3 181.4,573" fill="#c8efe5" opacity="1.0"/>
<polygon points="182.2,562 185.9,565.3 183.7,567.7" fill="#ecfbf6" opacity="0.6"/>
<polygon points="177.7,569.7 181.4,573 179.8,568.8" fill="#7cc4c4" opacity="0.55"/>
<polygon points="185.5,570.9 190.3,563.2 194.2,566.5 189.4,574.2" fill="#9bd6d0" opacity="1.0"/>
<polygon points="190.3,563.2 194.2,566.5 191.8,568.9" fill="#ecfbf6" opacity="0.6"/>
<polygon points="185.5,570.9 189.4,574.2 187.7,570" fill="#7cc4c4" opacity="0.55"/>
<polygon points="193.3,572.1 198.3,564.4 202.4,567.7 197.4,575.4" fill="#9bd6d0" opacity="1.0"/>
<polygon points="198.3,564.4 202.4,567.7 199.9,570.1" fill="#ecfbf6" opacity="0.6"/>
<polygon points="193.3,572.1 197.4,575.4 195.6,571.2" fill="#7cc4c4" opacity="0.55"/>
<polygon points="201.1,573.3 206.4,565.6 210.7,568.9 205.4,576.6" fill="#cdf1e7" opacity="1.0"/>
<polygon points="206.4,565.6 210.7,568.9 208,571.3" fill="#ecfbf6" opacity="0.6"/>
<polygon points="201.1,573.3 205.4,576.6 203.5,572.4" fill="#7cc4c4" opacity="0.55"/>
<polygon points="208.9,574.5 214.4,566.8 218.9,570.1 213.4,577.8" fill="#88cccb" opacity="1.0"/>
<polygon points="214.4,566.8 218.9,570.1 216.2,572.5" fill="#ecfbf6" opacity="0.6"/>
<polygon points="208.9,574.5 213.4,577.8 211.4,573.6" fill="#7cc4c4" opacity="0.55"/>
<polygon points="216.7,575.7 222.4,568 227.1,571.3 221.4,579" fill="#9bd6d0" opacity="1.0"/>
<polygon points="222.4,568 227.1,571.3 224.3,573.7" fill="#ecfbf6" opacity="0.6"/>
<polygon points="216.7,575.7 221.4,579 219.3,574.8" fill="#7cc4c4" opacity="0.55"/>
<polygon points="150.4,575.3 154.2,567.6 157.3,570.9 153.5,578.6" fill="#c8efe5" opacity="0.5"/>
<polygon points="154.2,567.6 157.3,570.9 155.4,573.3" fill="#ecfbf6" opacity="0.6"/>
<polygon points="150.4,575.3 153.5,578.6 152.1,574.4" fill="#7cc4c4" opacity="0.55"/>
<polygon points="158.2,576.5 162.2,568.8 165.6,572.1 161.5,579.8" fill="#88cccb" opacity="0.5"/>
<polygon points="162.2,568.8 165.6,572.1 163.5,574.5" fill="#ecfbf6" opacity="0.6"/>
<polygon points="158.2,576.5 161.5,579.8 160,575.6" fill="#7cc4c4" opacity="0.55"/>
<polygon points="166,577.7 170.3,570 173.8,573.3 169.5,581" fill="#dff7f0" opacity="1.0"/>
<polygon points="170.3,570 173.8,573.3 171.7,575.7" fill="#ecfbf6" opacity="0.6"/>
<polygon points="166,577.7 169.5,581 167.9,576.8" fill="#7cc4c4" opacity="0.55"/>
<polygon points="173.8,578.9 178.3,571.2 182,574.5 177.5,582.2" fill="#b0e1da" opacity="1.0"/>
<polygon points="178.3,571.2 182,574.5 179.8,576.9" fill="#ecfbf6" opacity="0.6"/>
<polygon points="173.8,578.9 177.5,582.2 175.9,578" fill="#7cc4c4" opacity="0.55"/>
<polygon points="181.6,580.1 186.4,572.4 190.3,575.7 185.5,583.4" fill="#c8efe5" opacity="1.0"/>
<polygon points="186.4,572.4 190.3,575.7 187.9,578.1" fill="#ecfbf6" opacity="0.6"/>
<polygon points="181.6,580.1 185.5,583.4 183.8,579.2" fill="#7cc4c4" opacity="0.55"/>
<polygon points="189.4,581.3 194.4,573.6 198.5,576.9 193.5,584.6" fill="#b0e1da" opacity="1.0"/>
<polygon points="194.4,573.6 198.5,576.9 196,579.3" fill="#ecfbf6" opacity="0.6"/>
<polygon points="189.4,581.3 193.5,584.6 191.7,580.4" fill="#7cc4c4" opacity="0.55"/>
<polygon points="197.2,582.5 202.5,574.8 206.8,578.1 201.5,585.8" fill="#c0ebe1" opacity="1.0"/>
<polygon points="202.5,574.8 206.8,578.1 204.1,580.5" fill="#ecfbf6" opacity="0.6"/>
<polygon points="197.2,582.5 201.5,585.8 199.6,581.6" fill="#7cc4c4" opacity="0.55"/>
<polygon points="205,583.7 210.5,576 215,579.3 209.5,587" fill="#9bd6d0" opacity="1.0"/>
<polygon points="210.5,576 215,579.3 212.2,581.7" fill="#ecfbf6" opacity="0.6"/>
<polygon points="205,583.7 209.5,587 207.5,582.8" fill="#7cc4c4" opacity="0.55"/>
<polygon points="212.8,584.9 218.5,577.2 223.2,580.5 217.5,588.2" fill="#dff7f0" opacity="1.0"/>
<polygon points="218.5,577.2 223.2,580.5 220.4,582.9" fill="#ecfbf6" opacity="0.6"/>
<polygon points="212.8,584.9 217.5,588.2 215.4,584" fill="#7cc4c4" opacity="0.55"/>
<rect x="150" y="474" width="63" height="92" fill="url(#gMeshFade)"/>
</g>
<polygon points="52.4,478.2 72,475 105.8,486.4 85.5,489.2" fill="#cfcfcf" />
<polygon points="52.4,478.2 85.5,489.2 90.2,593.5 55.3,564" fill="url(#gZnL)" />
<polygon points="85.5,489.2 105.8,486.4 111.6,587 90.2,593.5" fill="url(#gZnF)" />
<text transform="translate(93.8,514.6) rotate(88.6)" font-family="'Liberation Sans',Arial,sans-serif" font-size="12" font-weight="bold" fill="#1b1b1b">Zn anode</text>
<polygon points="163.4,469.8 176,468.8 230.4,477.4 212.5,483.2 163.4,474.5" fill="url(#gAirT)" />
<polygon points="212.5,483 230.4,477.4 230.4,557.8 212.5,564" fill="url(#gAirF)" />
<text transform="translate(216.6,486.6) rotate(90)" font-family="'Liberation Sans',Arial,sans-serif" font-size="12" font-weight="bold" fill="#ffffff">Air cathode</text>
<path d="M76,480.8 V470.5 C76,464 80.4,460.4 89,459.2 C105,456.2 125,455.2 135,455.2 C150,455.2 170,456 186,458.2 C193.2,459.2 196.7,462 196.7,467 V473" fill="none" stroke="#141414" stroke-width="1.6"/>
<circle cx="76" cy="480.8" r="1.5" fill="#111" />
<circle cx="196.7" cy="473" r="1.5" fill="#111" />
<circle cx="93.5" cy="458" r="4.8" fill="#ffffff" stroke="#141414" stroke-width="1.3"/>
<text x="93.3" y="460.4" font-family="'Liberation Sans',Arial,sans-serif" font-size="7.4" font-weight="bold" fill="#111" text-anchor="middle">e<tspan font-size="5" dy="-2.6">-</tspan></text>
<circle cx="172.9" cy="456.7" r="4.8" fill="#ffffff" stroke="#141414" stroke-width="1.3"/>
<text x="172.7" y="459.1" font-family="'Liberation Sans',Arial,sans-serif" font-size="7.4" font-weight="bold" fill="#111" text-anchor="middle">e<tspan font-size="5" dy="-2.6">-</tspan></text>
<path d="M100.6,451 h4 v-1.7 l3.6,2.9 l-3.6,2.9 v-1.7 h-4 z" fill="#111"/>
<path d="M182.4,452 h4 v-1.7 l3.6,2.9 l-3.6,2.9 v-1.7 h-4 z" fill="#111"/>
<circle cx="135" cy="436.6" r="15" fill="url(#gGlow)" />
<path d="M135,427.6 C140.4,427.6 143.6,431.6 143.6,436 C143.6,440.4 139.6,443.2 138.6,448.6 H131.4 C130.4,443.2 126.4,440.4 126.4,436 C126.4,431.6 129.6,427.6 135,427.6 Z" fill="url(#gBulb)"/>
<circle cx="135.2" cy="436" r="3.6" fill="url(#gBulbHi)" />
<rect x="132" y="448.2" width="6" height="4.6" rx="1" fill="#8d8d8d"/><rect x="133.2" y="452.4" width="3.6" height="2.2" fill="#5a5a5a"/>
<circle cx="122" cy="506.7" r="5" fill="url(#gBub)" stroke="#ffffff" stroke-width="0.6" opacity="0.95"/>
<text x="122.2" y="508.4" font-family="'Liberation Sans',Arial,sans-serif" font-size="4.8" font-weight="bold" fill="#ffffff" stroke="#62b4e0" stroke-width="0.35" text-anchor="middle">OH<tspan font-size="3.4" dy="-1.4">-</tspan></text>
<circle cx="119.8" cy="536.5" r="4" fill="url(#gBub)" stroke="#ffffff" stroke-width="0.6" opacity="0.95"/>
<text x="120" y="537.8" font-family="'Liberation Sans',Arial,sans-serif" font-size="3.6" font-weight="bold" fill="#ffffff" stroke="#62b4e0" stroke-width="0.35" text-anchor="middle">OH<tspan font-size="2.5" dy="-1.1">-</tspan></text>
<circle cx="133.2" cy="542.2" r="5.6" fill="url(#gBub)" stroke="#ffffff" stroke-width="0.6" opacity="0.95"/>
<text x="133.4" y="544" font-family="'Liberation Sans',Arial,sans-serif" font-size="5" font-weight="bold" fill="#ffffff" stroke="#62b4e0" stroke-width="0.35" text-anchor="middle">OH<tspan font-size="3.5" dy="-1.5">-</tspan></text>
<circle cx="122" cy="560.3" r="6.8" fill="url(#gBub)" stroke="#ffffff" stroke-width="0.6" opacity="0.95"/>
<text x="122.2" y="562.6" font-family="'Liberation Sans',Arial,sans-serif" font-size="6.4" font-weight="bold" fill="#ffffff" stroke="#62b4e0" stroke-width="0.35" text-anchor="middle">OH<tspan font-size="4.5" dy="-1.9">-</tspan></text>
<circle cx="143" cy="553.8" r="3" fill="url(#gBub)" stroke="#ffffff" stroke-width="0.6" opacity="0.95"/>
<text x="123.5" y="529.4" font-family="'Liberation Sans',Arial,sans-serif" font-size="14.5" font-weight="bold" fill="#f2fafe" stroke="#5fb4e4" stroke-width="1.25" paint-order="stroke" textLength="20.5" lengthAdjust="spacingAndGlyphs">OH</text>
<text x="143.2" y="521.5" font-family="'Liberation Sans',Arial,sans-serif" font-size="8" font-weight="bold" fill="#f2fafe" stroke="#6bbbe6" stroke-width="0.8" paint-order="stroke">-</text>
<path d="M146.4,511.4 L152,500.6 L153.2,505.8 C161,502.2 171,503.2 177.6,510.8 C170,507.6 161.5,508.3 155.4,512.4 L156.6,517.8 Z" fill="#e9f6fc" stroke="#3f98b3" stroke-width="1.1" stroke-linejoin="round"/>
<text x="179.4" y="526" font-family="'Liberation Sans',Arial,sans-serif" font-size="12.5" font-weight="bold" fill="#f2a818" stroke="#ffffff" stroke-width="1.6" paint-order="stroke">O<tspan font-size="7.5" dy="2.5">2</tspan></text>
<circle cx="182.8" cy="533" r="1.9" fill="#e58a4e" />
<circle cx="187" cy="534.7" r="1.9" fill="#e58a4e" />
<path d="M232.4,505.4 l3.6,-3 v1.8 h3.8 v2.4 h-3.8 v1.8 z" fill="#5f9c34"/>
<path d="M231.6,522 l3.6,-3 v1.8 h3.8 v2.4 h-3.8 v1.8 z" fill="#5f9c34"/>
<g filter="url(#fBlur)"><ellipse cx="242.5" cy="546" rx="3" ry="7" fill="#8a8a8a" opacity="0.4"/><ellipse cx="256" cy="547" rx="3" ry="6" fill="#8a8a8a" opacity="0.32"/></g>
<circle cx="243" cy="496.5" r="3.1" fill="url(#gBall)" />
<circle cx="249.4" cy="498.6" r="3.1" fill="url(#gBall)" />
<circle cx="244.9" cy="508.8" r="3.1" fill="url(#gBall)" />
<circle cx="240.5" cy="513" r="3.1" fill="url(#gBall)" />
<circle cx="252.7" cy="515.6" r="3.1" fill="url(#gBall)" />
<circle cx="255.8" cy="522" r="3.1" fill="url(#gBall)" />
<circle cx="242.3" cy="525.8" r="3.1" fill="url(#gBall)" />
<circle cx="242.3" cy="531" r="3.1" fill="url(#gBall)" />
</g>
<g id="pd">
<text x="299" y="425.8" font-family="'Liberation Serif','Times New Roman',serif" font-size="23.5" font-weight="bold" fill="#111" text-anchor="start" >d</text>
<path d="M320.3,454C320.4,455.2 320.6,459.3 320.9,461.5C321.1,463.7 321.4,465.4 321.8,467C322.2,468.6 322.7,470.1 323.5,471.2C324.3,472.3 324.7,472.3 326.4,473.8C328.1,475.3 330.5,477.5 333.8,480.2C337.1,482.9 343,487.4 346.4,490.2C349.8,493 350.7,493.9 354,496.8C357.3,499.7 362.5,504.4 366,507.3C369.5,510.2 372,511.8 375,514C378,516.2 380.7,518.1 384,520.6C387.3,523.1 391.3,526.1 395,529C398.7,531.9 402.7,535.4 406,538C409.3,540.6 411.3,542 415,544.8C418.7,547.5 424.1,551.6 428,554.5C431.9,557.4 436.8,560.8 438.5,562" fill="none" stroke="#1c8a4c" stroke-width="1.5" stroke-linejoin="round"/>
<circle cx="320.3" cy="454" r="1.7" fill="#1c8a4c" />
<circle cx="320.8" cy="460.9" r="1.5" fill="#ffffff" stroke="#1c8a4c" stroke-width="0.7"/>
<circle cx="322" cy="467.7" r="1.7" fill="#1c8a4c" />
<circle cx="325.7" cy="473.2" r="1.5" fill="#ffffff" stroke="#1c8a4c" stroke-width="0.7"/>
<circle cx="330.9" cy="477.8" r="1.7" fill="#1c8a4c" />
<circle cx="336.3" cy="482.2" r="1.5" fill="#ffffff" stroke="#1c8a4c" stroke-width="0.7"/>
<circle cx="341.7" cy="486.4" r="1.7" fill="#1c8a4c" />
<circle cx="347.1" cy="490.7" r="1.5" fill="#ffffff" stroke="#1c8a4c" stroke-width="0.7"/>
<circle cx="352.3" cy="495.3" r="1.7" fill="#1c8a4c" />
<circle cx="357.4" cy="499.8" r="1.5" fill="#ffffff" stroke="#1c8a4c" stroke-width="0.7"/>
<circle cx="362.6" cy="504.4" r="1.7" fill="#1c8a4c" />
<circle cx="367.9" cy="508.8" r="1.5" fill="#ffffff" stroke="#1c8a4c" stroke-width="0.7"/>
<circle cx="373.5" cy="512.9" r="1.7" fill="#1c8a4c" />
<circle cx="379.1" cy="517" r="1.5" fill="#ffffff" stroke="#1c8a4c" stroke-width="0.7"/>
<circle cx="384.6" cy="521.1" r="1.7" fill="#1c8a4c" />
<circle cx="390.1" cy="525.2" r="1.5" fill="#ffffff" stroke="#1c8a4c" stroke-width="0.7"/>
<circle cx="395.6" cy="529.5" r="1.7" fill="#1c8a4c" />
<circle cx="400.9" cy="533.8" r="1.5" fill="#ffffff" stroke="#1c8a4c" stroke-width="0.7"/>
<circle cx="406.2" cy="538.2" r="1.7" fill="#1c8a4c" />
<circle cx="411.7" cy="542.4" r="1.5" fill="#ffffff" stroke="#1c8a4c" stroke-width="0.7"/>
<circle cx="417.3" cy="546.5" r="1.7" fill="#1c8a4c" />
<circle cx="422.8" cy="550.6" r="1.5" fill="#ffffff" stroke="#1c8a4c" stroke-width="0.7"/>
<circle cx="428.3" cy="554.7" r="1.7" fill="#1c8a4c" />
<circle cx="433.9" cy="558.8" r="1.5" fill="#ffffff" stroke="#1c8a4c" stroke-width="0.7"/>
<path d="M320.3,586.8C320.6,585.9 321.1,583.5 321.8,581.6C322.5,579.7 323.2,577.6 324.4,575.2C325.6,572.8 327.5,569.9 329.1,567.2C330.7,564.5 332,562.3 333.8,559C335.6,555.7 337.9,551.2 340.2,547.3C342.5,543.4 345,539.5 347.5,535.6C350,531.8 353.2,527.3 355.4,524.2C357.6,521.1 358.7,519.4 360.5,517C362.3,514.6 363.9,512.3 366,510C368.1,507.7 370,505.4 373,503.2C376,501 380.3,498.2 384,496.6C387.7,495 391.9,494 395,493.4C398.1,492.8 399.8,493 402.3,493.2C404.8,493.4 407.1,493.4 410,494.3C412.9,495.2 416.7,496.8 420,498.6C423.3,500.4 426.9,503.1 430,505.2C433.1,507.3 437.1,510 438.5,511" fill="none" stroke="#1c8a4c" stroke-width="1.5" stroke-linejoin="round"/>
<circle cx="320.3" cy="586.8" r="1.7" fill="#1c8a4c" />
<circle cx="322.3" cy="580.2" r="1.5" fill="#ffffff" stroke="#1c8a4c" stroke-width="0.7"/>
<circle cx="325.1" cy="573.9" r="1.7" fill="#1c8a4c" />
<circle cx="328.6" cy="568" r="1.5" fill="#ffffff" stroke="#1c8a4c" stroke-width="0.7"/>
<circle cx="332.1" cy="562" r="1.7" fill="#1c8a4c" />
<circle cx="335.4" cy="556" r="1.5" fill="#ffffff" stroke="#1c8a4c" stroke-width="0.7"/>
<circle cx="338.7" cy="549.9" r="1.7" fill="#1c8a4c" />
<circle cx="342.2" cy="543.9" r="1.5" fill="#ffffff" stroke="#1c8a4c" stroke-width="0.7"/>
<circle cx="345.9" cy="538.1" r="1.7" fill="#1c8a4c" />
<circle cx="349.7" cy="532.4" r="1.5" fill="#ffffff" stroke="#1c8a4c" stroke-width="0.7"/>
<circle cx="353.6" cy="526.7" r="1.7" fill="#1c8a4c" />
<circle cx="357.6" cy="521" r="1.5" fill="#ffffff" stroke="#1c8a4c" stroke-width="0.7"/>
<circle cx="361.6" cy="515.5" r="1.7" fill="#1c8a4c" />
<circle cx="365.9" cy="510.1" r="1.5" fill="#ffffff" stroke="#1c8a4c" stroke-width="0.7"/>
<circle cx="370.7" cy="505.1" r="1.7" fill="#1c8a4c" />
<circle cx="376.2" cy="501" r="1.5" fill="#ffffff" stroke="#1c8a4c" stroke-width="0.7"/>
<circle cx="382.2" cy="497.5" r="1.7" fill="#1c8a4c" />
<circle cx="388.6" cy="494.9" r="1.5" fill="#ffffff" stroke="#1c8a4c" stroke-width="0.7"/>
<circle cx="395.3" cy="493.3" r="1.7" fill="#1c8a4c" />
<circle cx="402.2" cy="493.2" r="1.5" fill="#ffffff" stroke="#1c8a4c" stroke-width="0.7"/>
<circle cx="409" cy="494" r="1.7" fill="#1c8a4c" />
<circle cx="415.5" cy="496.4" r="1.5" fill="#ffffff" stroke="#1c8a4c" stroke-width="0.7"/>
<circle cx="421.6" cy="499.5" r="1.7" fill="#1c8a4c" />
<circle cx="427.4" cy="503.4" r="1.5" fill="#ffffff" stroke="#1c8a4c" stroke-width="0.7"/>
<circle cx="433" cy="507.3" r="1.7" fill="#1c8a4c" />
<path d="M320.3,453.6C320.4,454.8 320.6,458.8 320.9,461C321.1,463.2 321.4,464.9 321.8,466.6C322.2,468.3 322.8,469.7 323.5,471C324.2,472.3 324.4,472.7 326,474.5C327.6,476.3 329.9,478.9 333.2,481.8C336.5,484.7 341.4,488.8 346,491.8C350.6,494.8 356.6,497.9 360.5,500C364.4,502.1 365.9,502.6 369.5,504.4C373.1,506.2 377.1,508.4 382.3,510.8C387.5,513.2 395.1,516.5 400.5,519C405.9,521.5 410.1,523.1 415,525.5C419.9,527.9 425.5,531 430,533.2C434.5,535.5 437,536.9 442,539C447,541.1 453.1,543.3 460,546C466.9,548.7 479.4,553.5 483.3,555" fill="none" stroke="#e01a6e" stroke-width="1.5" stroke-linejoin="round"/>
<circle cx="320.3" cy="453.6" r="1.7" fill="#e01a6e" />
<circle cx="320.8" cy="460.5" r="1.5" fill="#ffffff" stroke="#e01a6e" stroke-width="0.7"/>
<circle cx="322" cy="467.3" r="1.7" fill="#e01a6e" />
<circle cx="325" cy="473.4" r="1.5" fill="#ffffff" stroke="#e01a6e" stroke-width="0.7"/>
<circle cx="329.7" cy="478.5" r="1.7" fill="#e01a6e" />
<circle cx="334.8" cy="483.2" r="1.5" fill="#ffffff" stroke="#e01a6e" stroke-width="0.7"/>
<circle cx="340.1" cy="487.5" r="1.7" fill="#e01a6e" />
<circle cx="345.7" cy="491.6" r="1.5" fill="#ffffff" stroke="#e01a6e" stroke-width="0.7"/>
<circle cx="351.6" cy="495.2" r="1.7" fill="#e01a6e" />
<circle cx="357.6" cy="498.5" r="1.5" fill="#ffffff" stroke="#e01a6e" stroke-width="0.7"/>
<circle cx="363.8" cy="501.7" r="1.7" fill="#e01a6e" />
<circle cx="370" cy="504.6" r="1.5" fill="#ffffff" stroke="#e01a6e" stroke-width="0.7"/>
<circle cx="376.1" cy="507.8" r="1.7" fill="#e01a6e" />
<circle cx="382.3" cy="510.8" r="1.5" fill="#ffffff" stroke="#e01a6e" stroke-width="0.7"/>
<circle cx="388.6" cy="513.7" r="1.7" fill="#e01a6e" />
<circle cx="394.9" cy="516.5" r="1.5" fill="#ffffff" stroke="#e01a6e" stroke-width="0.7"/>
<circle cx="401.2" cy="519.3" r="1.7" fill="#e01a6e" />
<circle cx="407.5" cy="522.1" r="1.5" fill="#ffffff" stroke="#e01a6e" stroke-width="0.7"/>
<circle cx="413.8" cy="524.9" r="1.7" fill="#e01a6e" />
<circle cx="420" cy="528" r="1.5" fill="#ffffff" stroke="#e01a6e" stroke-width="0.7"/>
<circle cx="426.1" cy="531.2" r="1.7" fill="#e01a6e" />
<circle cx="432.3" cy="534.3" r="1.5" fill="#ffffff" stroke="#e01a6e" stroke-width="0.7"/>
<circle cx="438.4" cy="537.4" r="1.7" fill="#e01a6e" />
<circle cx="444.8" cy="540.1" r="1.5" fill="#ffffff" stroke="#e01a6e" stroke-width="0.7"/>
<circle cx="451.2" cy="542.6" r="1.7" fill="#e01a6e" />
<circle cx="457.6" cy="545.1" r="1.5" fill="#ffffff" stroke="#e01a6e" stroke-width="0.7"/>
<circle cx="464.1" cy="547.6" r="1.7" fill="#e01a6e" />
<circle cx="470.5" cy="550.1" r="1.5" fill="#ffffff" stroke="#e01a6e" stroke-width="0.7"/>
<circle cx="477" cy="552.6" r="1.7" fill="#e01a6e" />
<path d="M320.3,586.6C320.5,585.7 321,583 321.6,581C322.2,579 322.8,576.9 324,574.5C325.2,572.1 327.1,569.1 328.6,566.4C330.1,563.7 331.4,561.5 333.2,558.2C335,554.9 337.2,550.4 339.5,546.4C341.8,542.4 344.2,538.5 346.8,534.5C349.4,530.5 352.4,526.4 355,522.7C357.6,519 359.9,515.5 362.3,512.3C364.7,509.1 366.5,507.2 369.5,503.6C372.5,500 377,494.3 380.5,490.6C384,486.9 387.2,484.1 390.5,481.3C393.8,478.5 397.2,475.9 400.5,473.6C403.8,471.3 407.2,469.4 410.5,467.6C413.8,465.8 416.8,464.3 420,463C423.2,461.7 426.7,460.6 430,459.8C433.3,459 436.3,458.4 440,458C443.7,457.6 448.2,457.3 452,457.5C455.8,457.7 459.3,458.3 463,459C466.7,459.7 470.6,460.8 474,461.8C477.4,462.8 481.8,464.5 483.3,465" fill="none" stroke="#e01a6e" stroke-width="1.5" stroke-linejoin="round"/>
<circle cx="320.3" cy="586.6" r="1.7" fill="#e01a6e" />
<circle cx="321.9" cy="579.9" r="1.5" fill="#ffffff" stroke="#e01a6e" stroke-width="0.7"/>
<circle cx="324.5" cy="573.5" r="1.7" fill="#e01a6e" />
<circle cx="327.9" cy="567.5" r="1.5" fill="#ffffff" stroke="#e01a6e" stroke-width="0.7"/>
<circle cx="331.4" cy="561.5" r="1.7" fill="#e01a6e" />
<circle cx="334.7" cy="555.5" r="1.5" fill="#ffffff" stroke="#e01a6e" stroke-width="0.7"/>
<circle cx="337.9" cy="549.4" r="1.7" fill="#e01a6e" />
<circle cx="341.3" cy="543.4" r="1.5" fill="#ffffff" stroke="#e01a6e" stroke-width="0.7"/>
<circle cx="344.9" cy="537.5" r="1.7" fill="#e01a6e" />
<circle cx="348.7" cy="531.7" r="1.5" fill="#ffffff" stroke="#e01a6e" stroke-width="0.7"/>
<circle cx="352.6" cy="526.1" r="1.7" fill="#e01a6e" />
<circle cx="356.6" cy="520.4" r="1.5" fill="#ffffff" stroke="#e01a6e" stroke-width="0.7"/>
<circle cx="360.5" cy="514.7" r="1.7" fill="#e01a6e" />
<circle cx="364.7" cy="509.3" r="1.5" fill="#ffffff" stroke="#e01a6e" stroke-width="0.7"/>
<circle cx="369.2" cy="504" r="1.7" fill="#e01a6e" />
<circle cx="373.6" cy="498.7" r="1.5" fill="#ffffff" stroke="#e01a6e" stroke-width="0.7"/>
<circle cx="378" cy="493.4" r="1.7" fill="#e01a6e" />
<circle cx="382.7" cy="488.3" r="1.5" fill="#ffffff" stroke="#e01a6e" stroke-width="0.7"/>
<circle cx="387.8" cy="483.7" r="1.7" fill="#e01a6e" />
<circle cx="393" cy="479.2" r="1.5" fill="#ffffff" stroke="#e01a6e" stroke-width="0.7"/>
<circle cx="398.5" cy="475" r="1.7" fill="#e01a6e" />
<circle cx="404.2" cy="471.2" r="1.5" fill="#ffffff" stroke="#e01a6e" stroke-width="0.7"/>
<circle cx="410.2" cy="467.7" r="1.7" fill="#e01a6e" />
<circle cx="416.4" cy="464.6" r="1.5" fill="#ffffff" stroke="#e01a6e" stroke-width="0.7"/>
<circle cx="422.7" cy="462" r="1.7" fill="#e01a6e" />
<circle cx="429.3" cy="460" r="1.5" fill="#ffffff" stroke="#e01a6e" stroke-width="0.7"/>
<circle cx="436.1" cy="458.5" r="1.7" fill="#e01a6e" />
<circle cx="442.9" cy="457.7" r="1.5" fill="#ffffff" stroke="#e01a6e" stroke-width="0.7"/>
<circle cx="449.8" cy="457.5" r="1.7" fill="#e01a6e" />
<circle cx="456.7" cy="457.9" r="1.5" fill="#ffffff" stroke="#e01a6e" stroke-width="0.7"/>
<circle cx="463.5" cy="459.1" r="1.7" fill="#e01a6e" />
<circle cx="470.2" cy="460.7" r="1.5" fill="#ffffff" stroke="#e01a6e" stroke-width="0.7"/>
<circle cx="476.8" cy="462.7" r="1.7" fill="#e01a6e" />
<rect x="320.3" y="434" width="191.7" height="162.5" fill="none" stroke="#111" stroke-width="1.3"/>
<line x1="317.5" y1="596.5" x2="320.3" y2="596.5" stroke="#111" stroke-width="1.1" />
<text transform="translate(316.5,600.1) scale(0.88,1)" font-family="'Liberation Serif','Times New Roman',serif" font-size="11.2" font-weight="bold" fill="#111" stroke="#111" stroke-width="0.22" text-anchor="end">0.0</text>
<line x1="318.7" y1="586.9" x2="320.3" y2="586.9" stroke="#111" stroke-width="0.9" />
<line x1="317.5" y1="577.4" x2="320.3" y2="577.4" stroke="#111" stroke-width="1.1" />
<text transform="translate(316.5,581) scale(0.88,1)" font-family="'Liberation Serif','Times New Roman',serif" font-size="11.2" font-weight="bold" fill="#111" stroke="#111" stroke-width="0.22" text-anchor="end">0.2</text>
<line x1="318.7" y1="567.8" x2="320.3" y2="567.8" stroke="#111" stroke-width="0.9" />
<line x1="317.5" y1="558.2" x2="320.3" y2="558.2" stroke="#111" stroke-width="1.1" />
<text transform="translate(316.5,561.8) scale(0.88,1)" font-family="'Liberation Serif','Times New Roman',serif" font-size="11.2" font-weight="bold" fill="#111" stroke="#111" stroke-width="0.22" text-anchor="end">0.4</text>
<line x1="318.7" y1="548.6" x2="320.3" y2="548.6" stroke="#111" stroke-width="0.9" />
<line x1="317.5" y1="539" x2="320.3" y2="539" stroke="#111" stroke-width="1.1" />
<text transform="translate(316.5,542.6) scale(0.88,1)" font-family="'Liberation Serif','Times New Roman',serif" font-size="11.2" font-weight="bold" fill="#111" stroke="#111" stroke-width="0.22" text-anchor="end">0.6</text>
<line x1="318.7" y1="529.4" x2="320.3" y2="529.4" stroke="#111" stroke-width="0.9" />
<line x1="317.5" y1="519.9" x2="320.3" y2="519.9" stroke="#111" stroke-width="1.1" />
<text transform="translate(316.5,523.5) scale(0.88,1)" font-family="'Liberation Serif','Times New Roman',serif" font-size="11.2" font-weight="bold" fill="#111" stroke="#111" stroke-width="0.22" text-anchor="end">0.8</text>
<line x1="318.7" y1="510.3" x2="320.3" y2="510.3" stroke="#111" stroke-width="0.9" />
<line x1="317.5" y1="500.8" x2="320.3" y2="500.8" stroke="#111" stroke-width="1.1" />
<text transform="translate(316.5,504.4) scale(0.88,1)" font-family="'Liberation Serif','Times New Roman',serif" font-size="11.2" font-weight="bold" fill="#111" stroke="#111" stroke-width="0.22" text-anchor="end">1.0</text>
<line x1="318.7" y1="491.1" x2="320.3" y2="491.1" stroke="#111" stroke-width="0.9" />
<line x1="317.5" y1="481.6" x2="320.3" y2="481.6" stroke="#111" stroke-width="1.1" />
<text transform="translate(316.5,485.2) scale(0.88,1)" font-family="'Liberation Serif','Times New Roman',serif" font-size="11.2" font-weight="bold" fill="#111" stroke="#111" stroke-width="0.22" text-anchor="end">1.2</text>
<line x1="318.7" y1="472" x2="320.3" y2="472" stroke="#111" stroke-width="0.9" />
<line x1="317.5" y1="462.4" x2="320.3" y2="462.4" stroke="#111" stroke-width="1.1" />
<text transform="translate(316.5,466.1) scale(0.88,1)" font-family="'Liberation Serif','Times New Roman',serif" font-size="11.2" font-weight="bold" fill="#111" stroke="#111" stroke-width="0.22" text-anchor="end">1.4</text>
<line x1="318.7" y1="452.8" x2="320.3" y2="452.8" stroke="#111" stroke-width="0.9" />
<line x1="317.5" y1="443.3" x2="320.3" y2="443.3" stroke="#111" stroke-width="1.1" />
<text transform="translate(316.5,446.9) scale(0.88,1)" font-family="'Liberation Serif','Times New Roman',serif" font-size="11.2" font-weight="bold" fill="#111" stroke="#111" stroke-width="0.22" text-anchor="end">1.6</text>
<line x1="320.3" y1="596.5" x2="320.3" y2="599.3" stroke="#111" stroke-width="1.1" />
<text transform="translate(320.3,611.3) scale(0.88,1)" font-family="'Liberation Serif','Times New Roman',serif" font-size="11.2" font-weight="bold" fill="#111" stroke="#111" stroke-width="0.22" text-anchor="middle">0</text>
<line x1="335" y1="596.5" x2="335" y2="598.1" stroke="#111" stroke-width="0.9" />
<line x1="349.7" y1="596.5" x2="349.7" y2="599.3" stroke="#111" stroke-width="1.1" />
<text transform="translate(349.7,611.3) scale(0.88,1)" font-family="'Liberation Serif','Times New Roman',serif" font-size="11.2" font-weight="bold" fill="#111" stroke="#111" stroke-width="0.22" text-anchor="middle">100</text>
<line x1="364.4" y1="596.5" x2="364.4" y2="598.1" stroke="#111" stroke-width="0.9" />
<line x1="379.1" y1="596.5" x2="379.1" y2="599.3" stroke="#111" stroke-width="1.1" />
<text transform="translate(379.1,611.3) scale(0.88,1)" font-family="'Liberation Serif','Times New Roman',serif" font-size="11.2" font-weight="bold" fill="#111" stroke="#111" stroke-width="0.22" text-anchor="middle">200</text>
<line x1="393.8" y1="596.5" x2="393.8" y2="598.1" stroke="#111" stroke-width="0.9" />
<line x1="408.5" y1="596.5" x2="408.5" y2="599.3" stroke="#111" stroke-width="1.1" />
<text transform="translate(408.5,611.3) scale(0.88,1)" font-family="'Liberation Serif','Times New Roman',serif" font-size="11.2" font-weight="bold" fill="#111" stroke="#111" stroke-width="0.22" text-anchor="middle">300</text>
<line x1="423.2" y1="596.5" x2="423.2" y2="598.1" stroke="#111" stroke-width="0.9" />
<line x1="437.9" y1="596.5" x2="437.9" y2="599.3" stroke="#111" stroke-width="1.1" />
<text transform="translate(437.9,611.3) scale(0.88,1)" font-family="'Liberation Serif','Times New Roman',serif" font-size="11.2" font-weight="bold" fill="#111" stroke="#111" stroke-width="0.22" text-anchor="middle">400</text>
<line x1="452.6" y1="596.5" x2="452.6" y2="598.1" stroke="#111" stroke-width="0.9" />
<line x1="467.3" y1="596.5" x2="467.3" y2="599.3" stroke="#111" stroke-width="1.1" />
<text transform="translate(467.3,611.3) scale(0.88,1)" font-family="'Liberation Serif','Times New Roman',serif" font-size="11.2" font-weight="bold" fill="#111" stroke="#111" stroke-width="0.22" text-anchor="middle">500</text>
<line x1="482" y1="596.5" x2="482" y2="598.1" stroke="#111" stroke-width="0.9" />
<line x1="496.7" y1="596.5" x2="496.7" y2="599.3" stroke="#111" stroke-width="1.1" />
<text transform="translate(496.7,611.3) scale(0.88,1)" font-family="'Liberation Serif','Times New Roman',serif" font-size="11.2" font-weight="bold" fill="#111" stroke="#111" stroke-width="0.22" text-anchor="middle">600</text>
<line x1="511.4" y1="596.5" x2="511.4" y2="598.1" stroke="#111" stroke-width="0.9" />
<line x1="512" y1="584" x2="514.8" y2="584" stroke="#111" stroke-width="1.1" />
<text transform="translate(516.4,587.6) scale(0.88,1)" font-family="'Liberation Serif','Times New Roman',serif" font-size="11.2" font-weight="bold" fill="#111" stroke="#111" stroke-width="0.22" text-anchor="start">0</text>
<line x1="512" y1="571.5" x2="513.6" y2="571.5" stroke="#111" stroke-width="0.9" />
<line x1="512" y1="559" x2="514.8" y2="559" stroke="#111" stroke-width="1.1" />
<text transform="translate(516.4,562.6) scale(0.88,1)" font-family="'Liberation Serif','Times New Roman',serif" font-size="11.2" font-weight="bold" fill="#111" stroke="#111" stroke-width="0.22" text-anchor="start">50</text>
<line x1="512" y1="546.5" x2="513.6" y2="546.5" stroke="#111" stroke-width="0.9" />
<line x1="512" y1="534" x2="514.8" y2="534" stroke="#111" stroke-width="1.1" />
<text transform="translate(516.4,537.6) scale(0.88,1)" font-family="'Liberation Serif','Times New Roman',serif" font-size="11.2" font-weight="bold" fill="#111" stroke="#111" stroke-width="0.22" text-anchor="start">100</text>
<line x1="512" y1="521.5" x2="513.6" y2="521.5" stroke="#111" stroke-width="0.9" />
<line x1="512" y1="509" x2="514.8" y2="509" stroke="#111" stroke-width="1.1" />
<text transform="translate(516.4,512.6) scale(0.88,1)" font-family="'Liberation Serif','Times New Roman',serif" font-size="11.2" font-weight="bold" fill="#111" stroke="#111" stroke-width="0.22" text-anchor="start">150</text>
<line x1="512" y1="496.5" x2="513.6" y2="496.5" stroke="#111" stroke-width="0.9" />
<line x1="512" y1="484" x2="514.8" y2="484" stroke="#111" stroke-width="1.1" />
<text transform="translate(516.4,487.6) scale(0.88,1)" font-family="'Liberation Serif','Times New Roman',serif" font-size="11.2" font-weight="bold" fill="#111" stroke="#111" stroke-width="0.22" text-anchor="start">200</text>
<line x1="512" y1="471.5" x2="513.6" y2="471.5" stroke="#111" stroke-width="0.9" />
<line x1="512" y1="459" x2="514.8" y2="459" stroke="#111" stroke-width="1.1" />
<text transform="translate(516.4,462.6) scale(0.88,1)" font-family="'Liberation Serif','Times New Roman',serif" font-size="11.2" font-weight="bold" fill="#111" stroke="#111" stroke-width="0.22" text-anchor="start">250</text>
<line x1="512" y1="446.5" x2="513.6" y2="446.5" stroke="#111" stroke-width="0.9" />
<line x1="512" y1="434" x2="514.8" y2="434" stroke="#111" stroke-width="1.1" />
<text transform="translate(516.4,437.6) scale(0.88,1)" font-family="'Liberation Serif','Times New Roman',serif" font-size="11.2" font-weight="bold" fill="#111" stroke="#111" stroke-width="0.22" text-anchor="start">300</text>
<line x1="512" y1="596.5" x2="513.6" y2="596.5" stroke="#111" stroke-width="0.9" />
<text transform="translate(418,624.8) scale(0.845,1)" font-family="'Liberation Serif','Times New Roman',serif" font-size="11.2" font-weight="bold" fill="#111" stroke="#111" stroke-width="0.22" text-anchor="middle">Current density (mA cm<tspan font-size="7" dy="-4.2">-2</tspan><tspan dy="4.2">)</tspan></text>
<text transform="translate(300.2,514.5) rotate(-90) scale(1,0.85)" font-family="'Liberation Serif','Times New Roman',serif" font-size="11.2" font-weight="bold" fill="#111" stroke="#111" stroke-width="0.22" text-anchor="middle">Voltage (V)</text>
<text transform="translate(541.8,516.8) rotate(-90) scale(1,0.85)" font-family="'Liberation Serif','Times New Roman',serif" font-size="11.2" font-weight="bold" fill="#111" stroke="#111" stroke-width="0.22" text-anchor="middle">Power density (mW cm<tspan font-size="7" dy="-4.2">-2</tspan><tspan dy="4.2">)</tspan></text>
<text transform="translate(424,452.6) scale(0.835,1)" font-family="'Liberation Serif','Times New Roman',serif" font-size="11.2" font-weight="bold" fill="#e01a6e" stroke="#e01a6e" stroke-width="0.22" text-anchor="start">254 mW cm<tspan font-size="7" dy="-4.2">-2</tspan></text>
<text transform="translate(401.8,488.4) scale(0.84,1)" font-family="'Liberation Serif','Times New Roman',serif" font-size="11.2" font-weight="bold" fill="#1c8a4c" stroke="#1c8a4c" stroke-width="0.22" text-anchor="start">183 mW cm<tspan font-size="7" dy="-4.2">-2</tspan></text>
<path d="M479,455.8 V449.6 H494" fill="none" stroke="#111" stroke-width="1.3"/><polygon points="498.4,449.6 493.4,451.7 493.4,447.5" fill="#111" />
<path d="M344.6,499 V506 H331.5" fill="none" stroke="#111" stroke-width="1.3"/><polygon points="326.6,506 331.6,503.9 331.6,508.1" fill="#111" />
<line x1="440.5" y1="573.4" x2="462" y2="573.4" stroke="#e01a6e" stroke-width="1.5" />
<circle cx="451.2" cy="573.4" r="1.7" fill="#e01a6e" />
<text transform="translate(464.8,577.4) scale(0.85,1)" font-family="'Liberation Serif','Times New Roman',serif" font-size="11.2" font-weight="bold" fill="#111" stroke="#111" stroke-width="0.22" text-anchor="start">Sn-N/O-C</text>
<line x1="440.5" y1="587.4" x2="462" y2="587.4" stroke="#1c8a4c" stroke-width="1.5" />
<circle cx="451.2" cy="587.4" r="1.6" fill="#fff" stroke="#1c8a4c" stroke-width="0.8"/>
<text transform="translate(464.8,591.4) scale(0.85,1)" font-family="'Liberation Serif','Times New Roman',serif" font-size="11.2" font-weight="bold" fill="#111" stroke="#111" stroke-width="0.22" text-anchor="start">Pt/C</text>
</g>
<g id="pe">
<text x="45.9" y="648.4" font-family="'Liberation Serif','Times New Roman',serif" font-size="25" font-weight="bold" fill="#111" text-anchor="start" >e</text>
<rect x="106.6" y="757.6" width="102.6" height="60.2" fill="url(#gPhoto)"/>
<rect x="160" y="815.6" width="49.2" height="2.2" fill="#4a4a48"/>
<rect x="106.6" y="816.4" width="54" height="1.4" fill="#b5b3ae"/>
<rect x="165.4" y="762" width="27.4" height="49.2" rx="2.8" fill="#0d0d12"/>
<rect x="167" y="764.6" width="24.2" height="43.6" rx="1" fill="#12131c"/>
<circle cx="179.6" cy="786" r="8" fill="url(#gPhGlow)" />
<circle cx="179.6" cy="786" r="4.4" fill="none" stroke="#2f74f2" stroke-width="1.3"/>
<circle cx="179.6" cy="786" r="2.6" fill="#1b2a55" />
<path d="M178.8,790 L179.1,808.5 L180.2,808.5 L180.5,790 Z" fill="#4c86f2"/>
<ellipse cx="179.6" cy="808.6" rx="3" ry="0.9" fill="#3d6fe0" opacity="0.8"/>
<path d="M179.8,811 C179.8,816 172,816.5 164,816 C154,815.2 150.6,808 152.4,797" fill="none" stroke="#fbfbfa" stroke-width="2"/>
<rect x="152.6" y="787.4" width="5" height="10" rx="1" transform="rotate(14 155 792)" fill="#b8c6a4" stroke="#7f8c6e" stroke-width="0.5"/>
<rect x="151.4" y="796.6" width="4.2" height="4.4" transform="rotate(14 153.5 798.8)" fill="#e9e9e6"/>
<path d="M121.8,790.6 C121.6,797 122.4,801 124.4,804 C127.4,808.6 132.2,811.2 134.8,807.4 C137.6,803 138,797 136.6,791 C135.4,785.4 137,780.6 143.6,779.4 C150,778.4 154,783 155.6,788" fill="none" stroke="#3a3a3a" stroke-width="0.9"/>
<path d="M107.4,768.4 L128,771.2 L150.4,773" fill="none" stroke="#d3352d" stroke-width="2.1"/>
<path d="M141.4,762.6 C150,764 158,770 160,778.4 C161,783 159,787.4 156.8,790.4" fill="none" stroke="#d8403a" stroke-width="1"/>
<path d="M150,773 C156,775 159.4,780 158.4,786" fill="none" stroke="#d8403a" stroke-width="0.9"/>
<rect x="132.6" y="760.8" width="9.6" height="3" rx="1" fill="#d8453e"/>
<rect x="120.6" y="762.4" width="6.2" height="25.6" rx="2" transform="rotate(6 123.7 775)" fill="#eeeeec" stroke="#b4b3ae" stroke-width="0.5"/>
<rect x="124.2" y="760" width="4.4" height="3.4" fill="#8d8d8a"/>
<rect x="120.4" y="787.6" width="2.8" height="3.4" fill="#2f2f2f"/>
<path d="M45.6,705C45.9,706.3 46.7,709.6 47.6,713C48.5,716.4 49.5,721.6 50.9,725.4C52.3,729.2 54.3,731 56,736C57.7,741 59.1,748.7 61,755.5C62.9,762.3 65.3,769.7 67.4,777C69.5,784.3 72.7,795.5 73.8,799.2" fill="none" stroke="#f0a52a" stroke-width="1.6" stroke-linejoin="round" stroke-linecap="round"/>
<path d="M45.8,819.4C46.7,817.7 49.1,812.4 51,809C52.9,805.6 55.2,801 57.3,798.9C59.4,796.8 61.7,796 63.6,796.2C65.5,796.4 67,798.2 68.7,800C70.4,801.8 73,805.8 73.8,806.9" fill="none" stroke="#f0a52a" stroke-width="1.6" stroke-linejoin="round" stroke-linecap="round"/>
<path d="M45.6,701.6C45.9,702 46.5,703 47.2,704C47.9,705 49,706.3 50,707.3C51,708.3 51.8,709.3 53,710.2C54.2,711.1 55.5,711.9 57.3,712.8C59.1,713.7 60.8,714.4 64,715.4C67.2,716.4 70.1,717.2 76.4,719C82.7,720.8 93.3,723.7 101.8,726C110.3,728.3 117.8,730.4 127.3,732.6C136.8,734.8 148.9,737.1 159,739.4C169.1,741.7 180.3,744.4 188,746.6C195.7,748.8 199.8,750.4 205,752.4C210.2,754.4 216.8,757.4 219.2,758.4" fill="none" stroke="#1f4f9f" stroke-width="1.6" stroke-linejoin="round" stroke-linecap="round"/>
<path d="M45.6,819.5C46,819 47.1,817.6 47.9,816.6C48.7,815.5 49.6,814.4 50.5,813.3C51.5,812.2 52.4,811.1 53.5,809.8C54.6,808.6 55.7,807.2 56.9,805.9C58.1,804.5 59.3,803.1 60.6,801.7C61.8,800.3 63.1,798.9 64.4,797.5C65.6,796.1 66.9,794.7 68.2,793.3C69.5,791.9 70.8,790.5 72,789.2C73.3,787.8 74.6,786.5 75.9,785.1C77.2,783.8 78.5,782.5 79.7,781.2C81,779.9 82.3,778.6 83.6,777.3C84.9,776 86.2,774.8 87.4,773.5C88.7,772.3 90,771 91.3,769.8C92.6,768.6 93.9,767.4 95.2,766.2C96.4,765 97.7,763.9 99,762.7C100.3,761.5 101.6,760.4 102.9,759.3C104.2,758.1 105.5,757 106.7,755.9C108,754.8 109.3,753.7 110.6,752.7C111.9,751.6 113.2,750.5 114.5,749.5C115.8,748.4 117.1,747.4 118.3,746.4C119.6,745.3 120.9,744.3 122.2,743.3C123.5,742.3 124.8,741.3 126.1,740.3C127.4,739.3 128.7,738.3 130,737.3C131.3,736.3 132.6,735.4 133.9,734.4C135.2,733.4 136.5,732.4 137.8,731.5C139.1,730.5 140.4,729.6 141.7,728.6C143.1,727.7 144.4,726.7 145.7,725.8C147,724.9 148.3,724 149.6,723.1C150.9,722.2 152.2,721.4 153.5,720.5C154.8,719.7 156.1,718.8 157.4,718C158.7,717.2 160,716.4 161.3,715.6C162.6,714.9 163.9,714.1 165.2,713.4C166.5,712.6 167.8,711.9 169.1,711.2C170.4,710.5 171.7,709.8 173,709.2C174.3,708.5 175.6,707.8 176.9,707.2C178.1,706.6 179.4,706 180.7,705.4C182,704.8 183.3,704.2 184.6,703.7C185.9,703.2 187.2,702.7 188.5,702.2C189.7,701.8 191,701.3 192.3,701C193.6,700.6 194.8,700.3 196.1,700C197.4,699.7 198.6,699.5 199.9,699.4C201.1,699.2 202.4,699.1 203.6,699C204.8,698.9 206.1,698.8 207.3,698.7C208.6,698.7 209.8,698.8 211,698.9C212.3,698.9 213.5,699.1 214.7,699.2C215.9,699.4 217.7,699.6 218.4,699.7" fill="none" stroke="#1f4f9f" stroke-width="1.6" stroke-linejoin="round" stroke-linecap="round"/>
<rect x="45.6" y="651.5" width="196.0" height="167.89999999999998" fill="none" stroke="#222" stroke-width="1"/>
<line x1="42.3" y1="819.4" x2="45.6" y2="819.4" stroke="#222" stroke-width="1.0" />
<text transform="translate(38.8,823.1) scale(1.04,1)" font-family="'Liberation Sans',Arial,sans-serif" font-size="11.2" fill="#111" text-anchor="end">0.0</text>
<line x1="42.3" y1="802.6" x2="45.6" y2="802.6" stroke="#222" stroke-width="1.0" />
<text transform="translate(38.8,806.3) scale(1.04,1)" font-family="'Liberation Sans',Arial,sans-serif" font-size="11.2" fill="#111" text-anchor="end">0.2</text>
<line x1="42.3" y1="785.8" x2="45.6" y2="785.8" stroke="#222" stroke-width="1.0" />
<text transform="translate(38.8,789.5) scale(1.04,1)" font-family="'Liberation Sans',Arial,sans-serif" font-size="11.2" fill="#111" text-anchor="end">0.4</text>
<line x1="42.3" y1="769" x2="45.6" y2="769" stroke="#222" stroke-width="1.0" />
<text transform="translate(38.8,772.7) scale(1.04,1)" font-family="'Liberation Sans',Arial,sans-serif" font-size="11.2" fill="#111" text-anchor="end">0.6</text>
<line x1="42.3" y1="752.2" x2="45.6" y2="752.2" stroke="#222" stroke-width="1.0" />
<text transform="translate(38.8,755.9) scale(1.04,1)" font-family="'Liberation Sans',Arial,sans-serif" font-size="11.2" fill="#111" text-anchor="end">0.8</text>
<line x1="42.3" y1="735.5" x2="45.6" y2="735.5" stroke="#222" stroke-width="1.0" />
<text transform="translate(38.8,739.2) scale(1.04,1)" font-family="'Liberation Sans',Arial,sans-serif" font-size="11.2" fill="#111" text-anchor="end">1.0</text>
<line x1="42.3" y1="718.7" x2="45.6" y2="718.7" stroke="#222" stroke-width="1.0" />
<text transform="translate(38.8,722.4) scale(1.04,1)" font-family="'Liberation Sans',Arial,sans-serif" font-size="11.2" fill="#111" text-anchor="end">1.2</text>
<line x1="42.3" y1="701.9" x2="45.6" y2="701.9" stroke="#222" stroke-width="1.0" />
<text transform="translate(38.8,705.6) scale(1.04,1)" font-family="'Liberation Sans',Arial,sans-serif" font-size="11.2" fill="#111" text-anchor="end">1.4</text>
<line x1="42.3" y1="685.1" x2="45.6" y2="685.1" stroke="#222" stroke-width="1.0" />
<text transform="translate(38.8,688.8) scale(1.04,1)" font-family="'Liberation Sans',Arial,sans-serif" font-size="11.2" fill="#111" text-anchor="end">1.6</text>
<line x1="42.3" y1="668.3" x2="45.6" y2="668.3" stroke="#222" stroke-width="1.0" />
<text transform="translate(38.8,672) scale(1.04,1)" font-family="'Liberation Sans',Arial,sans-serif" font-size="11.2" fill="#111" text-anchor="end">1.8</text>
<line x1="42.3" y1="651.5" x2="45.6" y2="651.5" stroke="#222" stroke-width="1.0" />
<text transform="translate(38.8,655.2) scale(1.04,1)" font-family="'Liberation Sans',Arial,sans-serif" font-size="11.2" fill="#111" text-anchor="end">2.0</text>
<line x1="45.6" y1="819.4" x2="45.6" y2="822.7" stroke="#222" stroke-width="1.0" />
<text transform="translate(45.6,834.2) scale(1.05,1)" font-family="'Liberation Sans',Arial,sans-serif" font-size="11.2" fill="#111" text-anchor="middle">0</text>
<line x1="73.6" y1="819.4" x2="73.6" y2="822.7" stroke="#222" stroke-width="1.0" />
<text transform="translate(73.6,834.2) scale(1.05,1)" font-family="'Liberation Sans',Arial,sans-serif" font-size="11.2" fill="#111" text-anchor="middle">50</text>
<line x1="101.6" y1="819.4" x2="101.6" y2="822.7" stroke="#222" stroke-width="1.0" />
<text transform="translate(101.6,834.2) scale(1.05,1)" font-family="'Liberation Sans',Arial,sans-serif" font-size="11.2" fill="#111" text-anchor="middle">100</text>
<line x1="129.6" y1="819.4" x2="129.6" y2="822.7" stroke="#222" stroke-width="1.0" />
<text transform="translate(129.6,834.2) scale(1.05,1)" font-family="'Liberation Sans',Arial,sans-serif" font-size="11.2" fill="#111" text-anchor="middle">150</text>
<line x1="157.6" y1="819.4" x2="157.6" y2="822.7" stroke="#222" stroke-width="1.0" />
<text transform="translate(157.6,834.2) scale(1.05,1)" font-family="'Liberation Sans',Arial,sans-serif" font-size="11.2" fill="#111" text-anchor="middle">200</text>
<line x1="185.6" y1="819.4" x2="185.6" y2="822.7" stroke="#222" stroke-width="1.0" />
<text transform="translate(185.6,834.2) scale(1.05,1)" font-family="'Liberation Sans',Arial,sans-serif" font-size="11.2" fill="#111" text-anchor="middle">250</text>
<line x1="213.6" y1="819.4" x2="213.6" y2="822.7" stroke="#222" stroke-width="1.0" />
<text transform="translate(213.6,834.2) scale(1.05,1)" font-family="'Liberation Sans',Arial,sans-serif" font-size="11.2" fill="#111" text-anchor="middle">300</text>
<line x1="241.6" y1="819.4" x2="241.6" y2="822.7" stroke="#222" stroke-width="1.0" />
<text transform="translate(241.6,834.2) scale(1.05,1)" font-family="'Liberation Sans',Arial,sans-serif" font-size="11.2" fill="#111" text-anchor="middle">350</text>
<line x1="241.6" y1="819.4" x2="244.9" y2="819.4" stroke="#222" stroke-width="1.0" />
<text transform="translate(248.5,822.3) scale(1.04,1)" font-family="'Liberation Sans',Arial,sans-serif" font-size="11.2" fill="#111" text-anchor="start">0</text>
<line x1="241.6" y1="798.4" x2="244.9" y2="798.4" stroke="#222" stroke-width="1.0" />
<text transform="translate(248.5,801.3) scale(1.04,1)" font-family="'Liberation Sans',Arial,sans-serif" font-size="11.2" fill="#111" text-anchor="start">20</text>
<line x1="241.6" y1="777.4" x2="244.9" y2="777.4" stroke="#222" stroke-width="1.0" />
<text transform="translate(248.5,780.3) scale(1.04,1)" font-family="'Liberation Sans',Arial,sans-serif" font-size="11.2" fill="#111" text-anchor="start">40</text>
<line x1="241.6" y1="756.4" x2="244.9" y2="756.4" stroke="#222" stroke-width="1.0" />
<text transform="translate(248.5,759.3) scale(1.04,1)" font-family="'Liberation Sans',Arial,sans-serif" font-size="11.2" fill="#111" text-anchor="start">60</text>
<line x1="241.6" y1="735.4" x2="244.9" y2="735.4" stroke="#222" stroke-width="1.0" />
<text transform="translate(248.5,738.3) scale(1.04,1)" font-family="'Liberation Sans',Arial,sans-serif" font-size="11.2" fill="#111" text-anchor="start">80</text>
<line x1="241.6" y1="714.5" x2="244.9" y2="714.5" stroke="#222" stroke-width="1.0" />
<text transform="translate(248.5,717.4) scale(1.04,1)" font-family="'Liberation Sans',Arial,sans-serif" font-size="11.2" fill="#111" text-anchor="start">100</text>
<line x1="241.6" y1="693.5" x2="244.9" y2="693.5" stroke="#222" stroke-width="1.0" />
<text transform="translate(248.5,696.4) scale(1.04,1)" font-family="'Liberation Sans',Arial,sans-serif" font-size="11.2" fill="#111" text-anchor="start">120</text>
<line x1="241.6" y1="672.5" x2="244.9" y2="672.5" stroke="#222" stroke-width="1.0" />
<text transform="translate(248.5,675.4) scale(1.04,1)" font-family="'Liberation Sans',Arial,sans-serif" font-size="11.2" fill="#111" text-anchor="start">140</text>
<line x1="241.6" y1="651.5" x2="244.9" y2="651.5" stroke="#222" stroke-width="1.0" />
<text transform="translate(248.5,654.4) scale(1.04,1)" font-family="'Liberation Sans',Arial,sans-serif" font-size="11.2" fill="#111" text-anchor="start">160</text>
<text transform="translate(144.9,852.8) scale(1.115,1)" font-family="'Liberation Sans',Arial,sans-serif" font-size="12.5" fill="#111" text-anchor="middle">Current density (mA·cm<tspan font-size="7.8" dy="-4.4">−2</tspan><tspan dy="4.4">)</tspan></text>
<text transform="translate(17.6,735.6) rotate(-90) scale(0.93,1)" font-family="'Liberation Sans',Arial,sans-serif" font-size="13.2" fill="#1a1a1a" text-anchor="middle">Voltage (V)</text>
<text transform="translate(283.6,733.4) rotate(-90) scale(0.9,1)" font-family="'Liberation Sans',Arial,sans-serif" font-size="13.2" fill="#1a1a1a" text-anchor="middle">Power density (mW·cm<tspan font-size="7.8" dy="-4.4">−2</tspan><tspan dy="4.4">)</tspan></text>
<line x1="53.5" y1="664" x2="81.5" y2="664" stroke="#1f4f9f" stroke-width="1.6" />
<text transform="translate(84.7,668) scale(1.09,1)" font-family="'Liberation Sans',Arial,sans-serif" font-size="11.8" fill="#111" text-anchor="start">Co/Cu–N–C</text>
<line x1="53.5" y1="677" x2="81.5" y2="677" stroke="#f0a52a" stroke-width="1.6" />
<text transform="translate(84.7,681) scale(1.09,1)" font-family="'Liberation Sans',Arial,sans-serif" font-size="11.8" fill="#111" text-anchor="start">Pt/C + IrO<tspan font-size="7.5" dy="2.6">2</tspan></text>
<text transform="translate(160.5,694.6) scale(1.085,1)" font-family="'Liberation Sans',Arial,sans-serif" font-size="10" fill="#111" text-anchor="start">113.5 mW·cm<tspan font-size="6.4" dy="-3.6">−2</tspan></text>
<text transform="translate(58.5,741) scale(1.085,1)" font-family="'Liberation Sans',Arial,sans-serif" font-size="10" fill="#111" text-anchor="start">21.8 mW·cm<tspan font-size="6.4" dy="-3.6">−2</tspan></text>
</g>
<g id="pf">
<text x="299.3" y="647.4" font-family="'Liberation Serif','Times New Roman',serif" font-size="25" font-weight="bold" fill="#111" text-anchor="start" >f</text>
<g fill="none" stroke="#d86a66" stroke-width="0.68"><circle cx="323.8" cy="665.7" r="1.9"/><circle cx="324.2" cy="668.8" r="1.9"/><circle cx="324.7" cy="671.8" r="1.9"/><circle cx="325.3" cy="674.9" r="1.9"/><circle cx="326.4" cy="677.7" r="1.9"/><circle cx="328.1" cy="680.4" r="1.9"/><circle cx="330.1" cy="682.7" r="1.9"/><circle cx="332.3" cy="684.9" r="1.9"/><circle cx="334.6" cy="687" r="1.9"/><circle cx="336.9" cy="689" r="1.9"/><circle cx="339.4" cy="690.9" r="1.9"/><circle cx="341.9" cy="692.7" r="1.9"/><circle cx="344.5" cy="694.5" r="1.9"/><circle cx="347" cy="696.2" r="1.9"/><circle cx="349.6" cy="698" r="1.9"/><circle cx="352.1" cy="699.8" r="1.9"/><circle cx="354.6" cy="701.5" r="1.9"/><circle cx="357.2" cy="703.2" r="1.9"/><circle cx="359.9" cy="704.9" r="1.9"/><circle cx="362.5" cy="706.4" r="1.9"/><circle cx="365.2" cy="708" r="1.9"/><circle cx="367.9" cy="709.6" r="1.9"/><circle cx="370.6" cy="711.2" r="1.9"/><circle cx="373.2" cy="712.8" r="1.9"/><circle cx="375.8" cy="714.5" r="1.9"/><circle cx="378.3" cy="716.2" r="1.9"/><circle cx="380.9" cy="718" r="1.9"/><circle cx="383.4" cy="719.8" r="1.9"/><circle cx="385.9" cy="721.6" r="1.9"/><circle cx="388.5" cy="723.4" r="1.9"/><circle cx="391" cy="725.2" r="1.9"/><circle cx="393.5" cy="727" r="1.9"/><circle cx="396.1" cy="728.8" r="1.9"/><circle cx="398.6" cy="730.6" r="1.9"/><circle cx="401.2" cy="732.3" r="1.9"/><circle cx="403.8" cy="733.9" r="1.9"/><circle cx="406.5" cy="735.5" r="1.9"/><circle cx="409.1" cy="737.1" r="1.9"/><circle cx="411.8" cy="738.7" r="1.9"/><circle cx="414.4" cy="740.4" r="1.9"/><circle cx="417" cy="742.1" r="1.9"/><circle cx="419.6" cy="743.7" r="1.9"/><circle cx="422.2" cy="745.4" r="1.9"/><circle cx="424.8" cy="747.1" r="1.9"/><circle cx="427.4" cy="748.8" r="1.9"/><circle cx="430" cy="750.4" r="1.9"/><circle cx="432.7" cy="752" r="1.9"/><circle cx="435.3" cy="753.7" r="1.9"/><circle cx="438" cy="755.3" r="1.9"/><circle cx="440.6" cy="756.9" r="1.9"/><circle cx="443.3" cy="758.5" r="1.9"/><circle cx="445.9" cy="760.1" r="1.9"/><circle cx="448.6" cy="761.7" r="1.9"/><circle cx="451.2" cy="763.3" r="1.9"/><circle cx="453.9" cy="765" r="1.9"/><circle cx="456.5" cy="766.5" r="1.9"/><circle cx="459.2" cy="768.1" r="1.9"/><circle cx="461.8" cy="769.8" r="1.9"/><circle cx="464.4" cy="771.5" r="1.9"/><circle cx="466.9" cy="773.3" r="1.9"/><circle cx="469.5" cy="775" r="1.9"/><circle cx="472.1" cy="776.7" r="1.9"/><circle cx="474.6" cy="778.5" r="1.9"/><circle cx="477.2" cy="780.2" r="1.9"/><circle cx="479.8" cy="781.9" r="1.9"/><circle cx="482.4" cy="783.6" r="1.9"/><circle cx="485" cy="785.3" r="1.9"/><circle cx="487.6" cy="787" r="1.9"/></g>
<g fill="none" stroke="#d86a66" stroke-width="0.68"><circle cx="324.1" cy="818.9" r="1.9"/><circle cx="325.4" cy="816.1" r="1.9"/><circle cx="326.8" cy="813.3" r="1.9"/><circle cx="328.1" cy="810.5" r="1.9"/><circle cx="329.5" cy="807.7" r="1.9"/><circle cx="330.9" cy="805" r="1.9"/><circle cx="332.3" cy="802.2" r="1.9"/><circle cx="333.8" cy="799.5" r="1.9"/><circle cx="335.4" cy="796.8" r="1.9"/><circle cx="337" cy="794.2" r="1.9"/><circle cx="338.5" cy="791.5" r="1.9"/><circle cx="340" cy="788.8" r="1.9"/><circle cx="341.5" cy="786.1" r="1.9"/><circle cx="343" cy="783.4" r="1.9"/><circle cx="344.5" cy="780.6" r="1.9"/><circle cx="346.1" cy="778" r="1.9"/><circle cx="347.6" cy="775.3" r="1.9"/><circle cx="349.2" cy="772.6" r="1.9"/><circle cx="350.7" cy="769.9" r="1.9"/><circle cx="352.3" cy="767.2" r="1.9"/><circle cx="353.9" cy="764.6" r="1.9"/><circle cx="355.5" cy="761.9" r="1.9"/><circle cx="357.1" cy="759.3" r="1.9"/><circle cx="358.7" cy="756.6" r="1.9"/><circle cx="360.3" cy="754" r="1.9"/><circle cx="362" cy="751.4" r="1.9"/><circle cx="363.7" cy="748.7" r="1.9"/><circle cx="365.4" cy="746.2" r="1.9"/><circle cx="367.2" cy="743.6" r="1.9"/><circle cx="369" cy="741.1" r="1.9"/><circle cx="370.9" cy="738.7" r="1.9"/><circle cx="372.8" cy="736.2" r="1.9"/><circle cx="374.7" cy="733.8" r="1.9"/><circle cx="376.6" cy="731.3" r="1.9"/><circle cx="378.4" cy="728.8" r="1.9"/><circle cx="380.4" cy="726.5" r="1.9"/><circle cx="382.6" cy="724.2" r="1.9"/><circle cx="384.8" cy="722.1" r="1.9"/><circle cx="387.2" cy="720.1" r="1.9"/><circle cx="389.6" cy="718.1" r="1.9"/><circle cx="391.9" cy="716.1" r="1.9"/><circle cx="394.4" cy="714.2" r="1.9"/><circle cx="396.8" cy="712.3" r="1.9"/><circle cx="399.3" cy="710.4" r="1.9"/><circle cx="401.9" cy="708.7" r="1.9"/><circle cx="404.6" cy="707.2" r="1.9"/><circle cx="407.3" cy="705.7" r="1.9"/><circle cx="410.1" cy="704.4" r="1.9"/><circle cx="412.9" cy="703.1" r="1.9"/><circle cx="415.8" cy="701.9" r="1.9"/><circle cx="418.7" cy="700.8" r="1.9"/><circle cx="421.6" cy="699.8" r="1.9"/><circle cx="424.6" cy="698.9" r="1.9"/><circle cx="427.6" cy="698.2" r="1.9"/><circle cx="430.7" cy="697.7" r="1.9"/><circle cx="433.8" cy="697.5" r="1.9"/><circle cx="436.9" cy="697.6" r="1.9"/><circle cx="440" cy="697.9" r="1.9"/><circle cx="443" cy="698.5" r="1.9"/><circle cx="446" cy="699.3" r="1.9"/><circle cx="448.9" cy="700.4" r="1.9"/><circle cx="451.8" cy="701.6" r="1.9"/><circle cx="454.6" cy="702.9" r="1.9"/><circle cx="457.3" cy="704.3" r="1.9"/><circle cx="460" cy="705.8" r="1.9"/><circle cx="462.7" cy="707.4" r="1.9"/><circle cx="465.3" cy="709" r="1.9"/><circle cx="467.9" cy="710.7" r="1.9"/><circle cx="470.4" cy="712.5" r="1.9"/><circle cx="472.9" cy="714.4" r="1.9"/><circle cx="475.3" cy="716.3" r="1.9"/><circle cx="477.6" cy="718.5" r="1.9"/><circle cx="479.7" cy="720.7" r="1.9"/><circle cx="481.7" cy="723.1" r="1.9"/><circle cx="483.7" cy="725.4" r="1.9"/><circle cx="485.7" cy="727.8" r="1.9"/><circle cx="487.5" cy="730.4" r="1.9"/></g>
<g fill="none" stroke="#6797ba" stroke-width="0.68"><circle cx="323.7" cy="672.4" r="1.9"/><circle cx="324.1" cy="675.5" r="1.9"/><circle cx="324.7" cy="678.5" r="1.9"/><circle cx="325.4" cy="681.5" r="1.9"/><circle cx="326.4" cy="684.5" r="1.9"/><circle cx="327.7" cy="687.3" r="1.9"/><circle cx="329.2" cy="690" r="1.9"/><circle cx="330.8" cy="692.6" r="1.9"/><circle cx="332.5" cy="695.2" r="1.9"/><circle cx="334.3" cy="697.8" r="1.9"/><circle cx="336.2" cy="700.2" r="1.9"/><circle cx="338.1" cy="702.6" r="1.9"/><circle cx="340.2" cy="705" r="1.9"/><circle cx="342.2" cy="707.3" r="1.9"/><circle cx="344.3" cy="709.6" r="1.9"/><circle cx="346.4" cy="711.8" r="1.9"/><circle cx="348.6" cy="714" r="1.9"/><circle cx="350.9" cy="716.1" r="1.9"/><circle cx="353.2" cy="718.2" r="1.9"/><circle cx="355.6" cy="720.2" r="1.9"/><circle cx="357.9" cy="722.3" r="1.9"/><circle cx="360.2" cy="724.4" r="1.9"/><circle cx="362.5" cy="726.4" r="1.9"/><circle cx="364.9" cy="728.4" r="1.9"/><circle cx="367.2" cy="730.5" r="1.9"/><circle cx="369.5" cy="732.6" r="1.9"/><circle cx="371.8" cy="734.6" r="1.9"/><circle cx="374.1" cy="736.7" r="1.9"/><circle cx="376.5" cy="738.7" r="1.9"/><circle cx="378.8" cy="740.8" r="1.9"/><circle cx="381.1" cy="742.8" r="1.9"/><circle cx="383.4" cy="744.9" r="1.9"/><circle cx="385.8" cy="746.9" r="1.9"/><circle cx="388.2" cy="748.9" r="1.9"/><circle cx="390.5" cy="750.9" r="1.9"/><circle cx="392.9" cy="752.9" r="1.9"/><circle cx="395.3" cy="754.8" r="1.9"/><circle cx="397.7" cy="756.8" r="1.9"/><circle cx="400.2" cy="758.7" r="1.9"/><circle cx="402.6" cy="760.6" r="1.9"/><circle cx="405" cy="762.6" r="1.9"/><circle cx="407.4" cy="764.5" r="1.9"/><circle cx="409.9" cy="766.4" r="1.9"/><circle cx="412.3" cy="768.3" r="1.9"/><circle cx="414.8" cy="770.2" r="1.9"/><circle cx="417.3" cy="772" r="1.9"/><circle cx="419.8" cy="773.8" r="1.9"/><circle cx="422.3" cy="775.7" r="1.9"/><circle cx="424.8" cy="777.5" r="1.9"/><circle cx="427.3" cy="779.4" r="1.9"/><circle cx="429.7" cy="781.2" r="1.9"/><circle cx="432.2" cy="783.1" r="1.9"/><circle cx="434.7" cy="784.9" r="1.9"/><circle cx="437.2" cy="786.8" r="1.9"/></g>
<g fill="none" stroke="#6797ba" stroke-width="0.68"><circle cx="323.9" cy="819.5" r="1.9"/><circle cx="325.2" cy="816.7" r="1.9"/><circle cx="326.6" cy="813.9" r="1.9"/><circle cx="327.9" cy="811.1" r="1.9"/><circle cx="329.3" cy="808.3" r="1.9"/><circle cx="330.7" cy="805.6" r="1.9"/><circle cx="332.2" cy="802.8" r="1.9"/><circle cx="333.7" cy="800.1" r="1.9"/><circle cx="335.3" cy="797.5" r="1.9"/><circle cx="336.9" cy="794.8" r="1.9"/><circle cx="338.5" cy="792.2" r="1.9"/><circle cx="340.1" cy="789.5" r="1.9"/><circle cx="341.7" cy="786.9" r="1.9"/><circle cx="343.4" cy="784.2" r="1.9"/><circle cx="345" cy="781.6" r="1.9"/><circle cx="346.7" cy="779" r="1.9"/><circle cx="348.5" cy="776.5" r="1.9"/><circle cx="350.3" cy="774" r="1.9"/><circle cx="352.2" cy="771.5" r="1.9"/><circle cx="354.2" cy="769.1" r="1.9"/><circle cx="356.1" cy="766.7" r="1.9"/><circle cx="358.1" cy="764.3" r="1.9"/><circle cx="360.2" cy="762" r="1.9"/><circle cx="362.3" cy="759.7" r="1.9"/><circle cx="364.4" cy="757.5" r="1.9"/><circle cx="366.6" cy="755.3" r="1.9"/><circle cx="368.9" cy="753.3" r="1.9"/><circle cx="371.3" cy="751.3" r="1.9"/><circle cx="373.8" cy="749.4" r="1.9"/><circle cx="376.5" cy="747.8" r="1.9"/><circle cx="379.2" cy="746.4" r="1.9"/><circle cx="382" cy="745.1" r="1.9"/><circle cx="384.9" cy="744" r="1.9"/><circle cx="387.9" cy="743.1" r="1.9"/><circle cx="390.9" cy="742.5" r="1.9"/><circle cx="394" cy="742.1" r="1.9"/><circle cx="397.1" cy="742" r="1.9"/><circle cx="400.2" cy="742.1" r="1.9"/><circle cx="403.3" cy="742.3" r="1.9"/><circle cx="406.4" cy="742.8" r="1.9"/><circle cx="409.4" cy="743.4" r="1.9"/><circle cx="412.4" cy="744.2" r="1.9"/><circle cx="415.3" cy="745.3" r="1.9"/><circle cx="418.2" cy="746.4" r="1.9"/><circle cx="421" cy="747.8" r="1.9"/><circle cx="423.7" cy="749.3" r="1.9"/><circle cx="426.3" cy="750.9" r="1.9"/><circle cx="428.9" cy="752.6" r="1.9"/><circle cx="431.5" cy="754.3" r="1.9"/><circle cx="434.1" cy="756" r="1.9"/><circle cx="436.7" cy="757.7" r="1.9"/></g>
<g fill="none" stroke="#86d6b9" stroke-width="0.68"><circle cx="323.6" cy="670" r="1.9"/><circle cx="324.1" cy="673.1" r="1.9"/><circle cx="324.7" cy="676.1" r="1.9"/><circle cx="325.7" cy="679.1" r="1.9"/><circle cx="327.2" cy="681.7" r="1.9"/><circle cx="329.3" cy="684" r="1.9"/><circle cx="331.4" cy="686.2" r="1.9"/><circle cx="333.7" cy="688.3" r="1.9"/><circle cx="336.1" cy="690.3" r="1.9"/><circle cx="338.6" cy="692.1" r="1.9"/><circle cx="341.2" cy="693.9" r="1.9"/><circle cx="343.8" cy="695.6" r="1.9"/><circle cx="346.4" cy="697.3" r="1.9"/><circle cx="349" cy="699" r="1.9"/><circle cx="351.6" cy="700.6" r="1.9"/><circle cx="354.2" cy="702.3" r="1.9"/><circle cx="356.9" cy="703.9" r="1.9"/><circle cx="359.5" cy="705.5" r="1.9"/><circle cx="362.2" cy="707.1" r="1.9"/><circle cx="364.9" cy="708.6" r="1.9"/><circle cx="367.6" cy="710.2" r="1.9"/><circle cx="370.2" cy="711.7" r="1.9"/><circle cx="372.9" cy="713.3" r="1.9"/><circle cx="375.6" cy="714.9" r="1.9"/><circle cx="378.3" cy="716.4" r="1.9"/><circle cx="381" cy="717.8" r="1.9"/><circle cx="383.9" cy="719.1" r="1.9"/><circle cx="386.7" cy="720.2" r="1.9"/><circle cx="389.6" cy="721.4" r="1.9"/><circle cx="392.5" cy="722.6" r="1.9"/><circle cx="395.3" cy="723.9" r="1.9"/><circle cx="398" cy="725.4" r="1.9"/><circle cx="400.8" cy="726.8" r="1.9"/><circle cx="403.6" cy="728.1" r="1.9"/><circle cx="406.4" cy="729.4" r="1.9"/><circle cx="409.2" cy="730.6" r="1.9"/><circle cx="412.1" cy="731.9" r="1.9"/><circle cx="414.9" cy="733.1" r="1.9"/><circle cx="417.7" cy="734.4" r="1.9"/><circle cx="420.5" cy="735.8" r="1.9"/><circle cx="423.3" cy="737.2" r="1.9"/><circle cx="426" cy="738.6" r="1.9"/><circle cx="428.8" cy="740.1" r="1.9"/><circle cx="431.5" cy="741.5" r="1.9"/><circle cx="434.3" cy="742.8" r="1.9"/><circle cx="437.1" cy="744.2" r="1.9"/><circle cx="439.9" cy="745.5" r="1.9"/><circle cx="442.7" cy="746.9" r="1.9"/><circle cx="445.5" cy="748.2" r="1.9"/><circle cx="448.3" cy="749.5" r="1.9"/><circle cx="451.1" cy="750.9" r="1.9"/><circle cx="453.9" cy="752.1" r="1.9"/><circle cx="456.7" cy="753.4" r="1.9"/><circle cx="459.6" cy="754.7" r="1.9"/><circle cx="462.4" cy="756" r="1.9"/><circle cx="465.2" cy="757.2" r="1.9"/><circle cx="468.1" cy="758.4" r="1.9"/><circle cx="470.9" cy="759.7" r="1.9"/><circle cx="473.8" cy="760.9" r="1.9"/><circle cx="476.6" cy="762.1" r="1.9"/><circle cx="479.5" cy="763.3" r="1.9"/><circle cx="482.4" cy="764.4" r="1.9"/><circle cx="485.3" cy="765.6" r="1.9"/><circle cx="488.2" cy="766.7" r="1.9"/><circle cx="491" cy="767.8" r="1.9"/><circle cx="493.9" cy="769" r="1.9"/><circle cx="496.8" cy="770.1" r="1.9"/><circle cx="499.7" cy="771.3" r="1.9"/><circle cx="502.6" cy="772.4" r="1.9"/><circle cx="505.4" cy="773.6" r="1.9"/><circle cx="508.3" cy="774.7" r="1.9"/><circle cx="511.2" cy="775.9" r="1.9"/><circle cx="514.1" cy="777.1" r="1.9"/></g>
<g fill="none" stroke="#86d6b9" stroke-width="0.68"><circle cx="323.6" cy="820" r="1.9"/><circle cx="324.9" cy="817.2" r="1.9"/><circle cx="326.2" cy="814.4" r="1.9"/><circle cx="327.5" cy="811.6" r="1.9"/><circle cx="328.9" cy="808.8" r="1.9"/><circle cx="330.2" cy="806" r="1.9"/><circle cx="331.7" cy="803.2" r="1.9"/><circle cx="333.2" cy="800.5" r="1.9"/><circle cx="334.7" cy="797.8" r="1.9"/><circle cx="336.3" cy="795.2" r="1.9"/><circle cx="337.8" cy="792.5" r="1.9"/><circle cx="339.3" cy="789.8" r="1.9"/><circle cx="340.8" cy="787.1" r="1.9"/><circle cx="342.3" cy="784.4" r="1.9"/><circle cx="343.8" cy="781.6" r="1.9"/><circle cx="345.4" cy="778.9" r="1.9"/><circle cx="346.9" cy="776.2" r="1.9"/><circle cx="348.4" cy="773.5" r="1.9"/><circle cx="350" cy="770.9" r="1.9"/><circle cx="351.5" cy="768.2" r="1.9"/><circle cx="353.1" cy="765.5" r="1.9"/><circle cx="354.7" cy="762.8" r="1.9"/><circle cx="356.3" cy="760.2" r="1.9"/><circle cx="357.9" cy="757.5" r="1.9"/><circle cx="359.5" cy="754.9" r="1.9"/><circle cx="361.2" cy="752.3" r="1.9"/><circle cx="362.8" cy="749.7" r="1.9"/><circle cx="364.5" cy="747.1" r="1.9"/><circle cx="366.2" cy="744.4" r="1.9"/><circle cx="367.8" cy="741.8" r="1.9"/><circle cx="369.5" cy="739.2" r="1.9"/><circle cx="371.2" cy="736.6" r="1.9"/><circle cx="373" cy="734.1" r="1.9"/><circle cx="374.8" cy="731.6" r="1.9"/><circle cx="376.7" cy="729.1" r="1.9"/><circle cx="378.6" cy="726.6" r="1.9"/><circle cx="380.5" cy="724.2" r="1.9"/><circle cx="382.5" cy="721.9" r="1.9"/><circle cx="384.6" cy="719.5" r="1.9"/><circle cx="386.7" cy="717.3" r="1.9"/><circle cx="388.8" cy="715" r="1.9"/><circle cx="391" cy="712.8" r="1.9"/><circle cx="393.1" cy="710.6" r="1.9"/><circle cx="395.3" cy="708.3" r="1.9"/><circle cx="397.4" cy="706.1" r="1.9"/><circle cx="399.6" cy="703.9" r="1.9"/><circle cx="401.9" cy="701.8" r="1.9"/><circle cx="404.2" cy="699.7" r="1.9"/><circle cx="406.6" cy="697.8" r="1.9"/><circle cx="409.1" cy="695.9" r="1.9"/><circle cx="411.6" cy="694.1" r="1.9"/><circle cx="414" cy="692.1" r="1.9"/><circle cx="416.5" cy="690.2" r="1.9"/><circle cx="418.9" cy="688.4" r="1.9"/><circle cx="421.5" cy="686.7" r="1.9"/><circle cx="424.1" cy="685" r="1.9"/><circle cx="426.8" cy="683.5" r="1.9"/><circle cx="429.6" cy="682" r="1.9"/><circle cx="432.4" cy="680.8" r="1.9"/><circle cx="435.3" cy="679.7" r="1.9"/><circle cx="438.3" cy="678.9" r="1.9"/><circle cx="441.3" cy="678.3" r="1.9"/><circle cx="444.4" cy="677.7" r="1.9"/><circle cx="447.5" cy="677.3" r="1.9"/><circle cx="450.5" cy="677" r="1.9"/><circle cx="453.6" cy="676.7" r="1.9"/><circle cx="456.7" cy="676.5" r="1.9"/><circle cx="459.8" cy="676.3" r="1.9"/><circle cx="462.9" cy="676.2" r="1.9"/><circle cx="466" cy="676.2" r="1.9"/><circle cx="469.1" cy="676.3" r="1.9"/><circle cx="472.2" cy="676.4" r="1.9"/><circle cx="475.3" cy="676.6" r="1.9"/><circle cx="478.4" cy="676.9" r="1.9"/><circle cx="481.5" cy="677.3" r="1.9"/><circle cx="484.5" cy="677.7" r="1.9"/><circle cx="487.6" cy="678.2" r="1.9"/><circle cx="490.6" cy="678.8" r="1.9"/><circle cx="493.7" cy="679.4" r="1.9"/><circle cx="496.7" cy="680.1" r="1.9"/><circle cx="499.7" cy="680.8" r="1.9"/><circle cx="502.7" cy="681.5" r="1.9"/><circle cx="505.7" cy="682.3" r="1.9"/><circle cx="508.7" cy="683" r="1.9"/><circle cx="511.7" cy="683.9" r="1.9"/><circle cx="514.7" cy="684.8" r="1.9"/></g>
<rect x="323.6" y="654.6" width="191.9" height="166.4" fill="none" stroke="#111" stroke-width="1.2"/>
<line x1="321" y1="821" x2="323.6" y2="821" stroke="#111" stroke-width="1" />
<text transform="translate(318.4,824.6) scale(0.92,1)" font-family="'Liberation Sans',Arial,sans-serif" font-size="10.2" font-weight="bold" fill="#111" text-anchor="end">0.0</text>
<line x1="322.1" y1="804.4" x2="323.6" y2="804.4" stroke="#111" stroke-width="0.8" />
<line x1="321" y1="787.7" x2="323.6" y2="787.7" stroke="#111" stroke-width="1" />
<text transform="translate(318.4,791.3) scale(0.92,1)" font-family="'Liberation Sans',Arial,sans-serif" font-size="10.2" font-weight="bold" fill="#111" text-anchor="end">0.2</text>
<line x1="322.1" y1="771.1" x2="323.6" y2="771.1" stroke="#111" stroke-width="0.8" />
<line x1="321" y1="754.4" x2="323.6" y2="754.4" stroke="#111" stroke-width="1" />
<text transform="translate(318.4,758) scale(0.92,1)" font-family="'Liberation Sans',Arial,sans-serif" font-size="10.2" font-weight="bold" fill="#111" text-anchor="end">0.4</text>
<line x1="322.1" y1="737.8" x2="323.6" y2="737.8" stroke="#111" stroke-width="0.8" />
<line x1="321" y1="721.2" x2="323.6" y2="721.2" stroke="#111" stroke-width="1" />
<text transform="translate(318.4,724.8) scale(0.92,1)" font-family="'Liberation Sans',Arial,sans-serif" font-size="10.2" font-weight="bold" fill="#111" text-anchor="end">0.6</text>
<line x1="322.1" y1="704.5" x2="323.6" y2="704.5" stroke="#111" stroke-width="0.8" />
<line x1="321" y1="687.9" x2="323.6" y2="687.9" stroke="#111" stroke-width="1" />
<text transform="translate(318.4,691.5) scale(0.92,1)" font-family="'Liberation Sans',Arial,sans-serif" font-size="10.2" font-weight="bold" fill="#111" text-anchor="end">0.8</text>
<line x1="322.1" y1="671.2" x2="323.6" y2="671.2" stroke="#111" stroke-width="0.8" />
<line x1="321" y1="654.6" x2="323.6" y2="654.6" stroke="#111" stroke-width="1" />
<text transform="translate(318.4,658.2) scale(0.92,1)" font-family="'Liberation Sans',Arial,sans-serif" font-size="10.2" font-weight="bold" fill="#111" text-anchor="end">1.0</text>
<line x1="323.6" y1="821" x2="323.6" y2="823.6" stroke="#111" stroke-width="1" />
<text transform="translate(324.1,835) scale(0.95,1)" font-family="'Liberation Sans',Arial,sans-serif" font-size="10.2" font-weight="bold" fill="#111" text-anchor="middle">0</text>
<line x1="342.8" y1="821" x2="342.8" y2="822.5" stroke="#111" stroke-width="0.8" />
<line x1="361.9" y1="821" x2="361.9" y2="823.6" stroke="#111" stroke-width="1" />
<text transform="translate(362.4,835) scale(0.95,1)" font-family="'Liberation Sans',Arial,sans-serif" font-size="10.2" font-weight="bold" fill="#111" text-anchor="middle">1000</text>
<line x1="381.1" y1="821" x2="381.1" y2="822.5" stroke="#111" stroke-width="0.8" />
<line x1="400.2" y1="821" x2="400.2" y2="823.6" stroke="#111" stroke-width="1" />
<text transform="translate(400.7,835) scale(0.95,1)" font-family="'Liberation Sans',Arial,sans-serif" font-size="10.2" font-weight="bold" fill="#111" text-anchor="middle">2000</text>
<line x1="419.4" y1="821" x2="419.4" y2="822.5" stroke="#111" stroke-width="0.8" />
<line x1="438.5" y1="821" x2="438.5" y2="823.6" stroke="#111" stroke-width="1" />
<text transform="translate(439,835) scale(0.95,1)" font-family="'Liberation Sans',Arial,sans-serif" font-size="10.2" font-weight="bold" fill="#111" text-anchor="middle">3000</text>
<line x1="457.6" y1="821" x2="457.6" y2="822.5" stroke="#111" stroke-width="0.8" />
<line x1="476.8" y1="821" x2="476.8" y2="823.6" stroke="#111" stroke-width="1" />
<text transform="translate(477.3,835) scale(0.95,1)" font-family="'Liberation Sans',Arial,sans-serif" font-size="10.2" font-weight="bold" fill="#111" text-anchor="middle">4000</text>
<line x1="495.9" y1="821" x2="495.9" y2="822.5" stroke="#111" stroke-width="0.8" />
<line x1="515.1" y1="821" x2="515.1" y2="823.6" stroke="#111" stroke-width="1" />
<text transform="translate(515.6,835) scale(0.95,1)" font-family="'Liberation Sans',Arial,sans-serif" font-size="10.2" font-weight="bold" fill="#111" text-anchor="middle">5000</text>
<line x1="515.5" y1="820.4" x2="518.1" y2="820.4" stroke="#111" stroke-width="1" />
<text transform="translate(517.7,824.2) scale(0.96,1)" font-family="'Liberation Sans',Arial,sans-serif" font-size="10.5" font-weight="bold" fill="#111" text-anchor="start">0.0</text>
<line x1="515.5" y1="789.2" x2="518.1" y2="789.2" stroke="#111" stroke-width="1" />
<text transform="translate(517.7,793) scale(0.96,1)" font-family="'Liberation Sans',Arial,sans-serif" font-size="10.5" font-weight="bold" fill="#111" text-anchor="start">0.3</text>
<line x1="515.5" y1="758.1" x2="518.1" y2="758.1" stroke="#111" stroke-width="1" />
<text transform="translate(517.7,761.9) scale(0.96,1)" font-family="'Liberation Sans',Arial,sans-serif" font-size="10.5" font-weight="bold" fill="#111" text-anchor="start">0.6</text>
<line x1="515.5" y1="727" x2="518.1" y2="727" stroke="#111" stroke-width="1" />
<text transform="translate(517.7,730.8) scale(0.96,1)" font-family="'Liberation Sans',Arial,sans-serif" font-size="10.5" font-weight="bold" fill="#111" text-anchor="start">0.9</text>
<line x1="515.5" y1="695.8" x2="518.1" y2="695.8" stroke="#111" stroke-width="1" />
<text transform="translate(517.7,699.6) scale(0.96,1)" font-family="'Liberation Sans',Arial,sans-serif" font-size="10.5" font-weight="bold" fill="#111" text-anchor="start">1.2</text>
<line x1="515.5" y1="664.6" x2="518.1" y2="664.6" stroke="#111" stroke-width="1" />
<text transform="translate(517.7,668.4) scale(0.96,1)" font-family="'Liberation Sans',Arial,sans-serif" font-size="10.5" font-weight="bold" fill="#111" text-anchor="start">1.5</text>
<text transform="translate(418.7,845.6) scale(0.93,1)" font-family="'Liberation Sans',Arial,sans-serif" font-size="10.2" font-weight="bold" fill="#111" text-anchor="middle">Current density (mA cm<tspan font-size="6.4" dy="-3.6">-2</tspan><tspan dy="3.6">)</tspan></text>
<text transform="translate(302.6,732) rotate(-90) scale(1.09,1)" font-family="'Liberation Sans',Arial,sans-serif" font-size="9.5" font-weight="bold" fill="#111" text-anchor="middle">Voltage (V)</text>
<text transform="translate(539.4,737.6) rotate(-90) scale(1.085,1)" font-family="'Liberation Sans',Arial,sans-serif" font-size="9.5" font-weight="bold" fill="#111" text-anchor="middle">Power density (W cm<tspan font-size="6.2" dy="-3.4">-2</tspan><tspan dy="3.4">)</tspan></text>
<line x1="347.3" y1="662.6" x2="363.8" y2="662.6" stroke="#d86a66" stroke-width="1.1" />
<circle cx="355.6" cy="662.6" r="1.9" fill="#fff" stroke="#d86a66" stroke-width="0.8"/>
<text style="stroke:none" transform="translate(365.2,665.9) scale(0.9,1)" font-family="'Liberation Sans',Arial,sans-serif" font-size="9.3" font-weight="bold" fill="#222" text-anchor="start">Fe-N/O-C 2bar</text>
<line x1="347.3" y1="673.8" x2="363.8" y2="673.8" stroke="#6797ba" stroke-width="1.1" />
<circle cx="355.6" cy="673.8" r="1.9" fill="#fff" stroke="#6797ba" stroke-width="0.8"/>
<text style="stroke:none" transform="translate(365.2,677.1) scale(0.9,1)" font-family="'Liberation Sans',Arial,sans-serif" font-size="9.3" font-weight="bold" fill="#222" text-anchor="start">Fe-N-C 2bar</text>
<line x1="347.3" y1="684.8" x2="363.8" y2="684.8" stroke="#86d6b9" stroke-width="1.1" />
<circle cx="355.6" cy="684.8" r="1.9" fill="#fff" stroke="#86d6b9" stroke-width="0.8"/>
<text style="stroke:none" transform="translate(365.2,688.1) scale(0.9,1)" font-family="'Liberation Sans',Arial,sans-serif" font-size="9.3" font-weight="bold" fill="#222" text-anchor="start">Pt/C 2bar</text>
<text transform="translate(478.8,667.4) scale(0.9,1)" font-family="'Liberation Serif','Times New Roman',serif" font-size="8.6" font-weight="bold" fill="#222">H<tspan font-size="5.6" dy="1.6">2</tspan><tspan dy="-1.6">-O</tspan><tspan font-size="5.6" dy="1.6">2</tspan></text>
</g>
</svg></body></html>
